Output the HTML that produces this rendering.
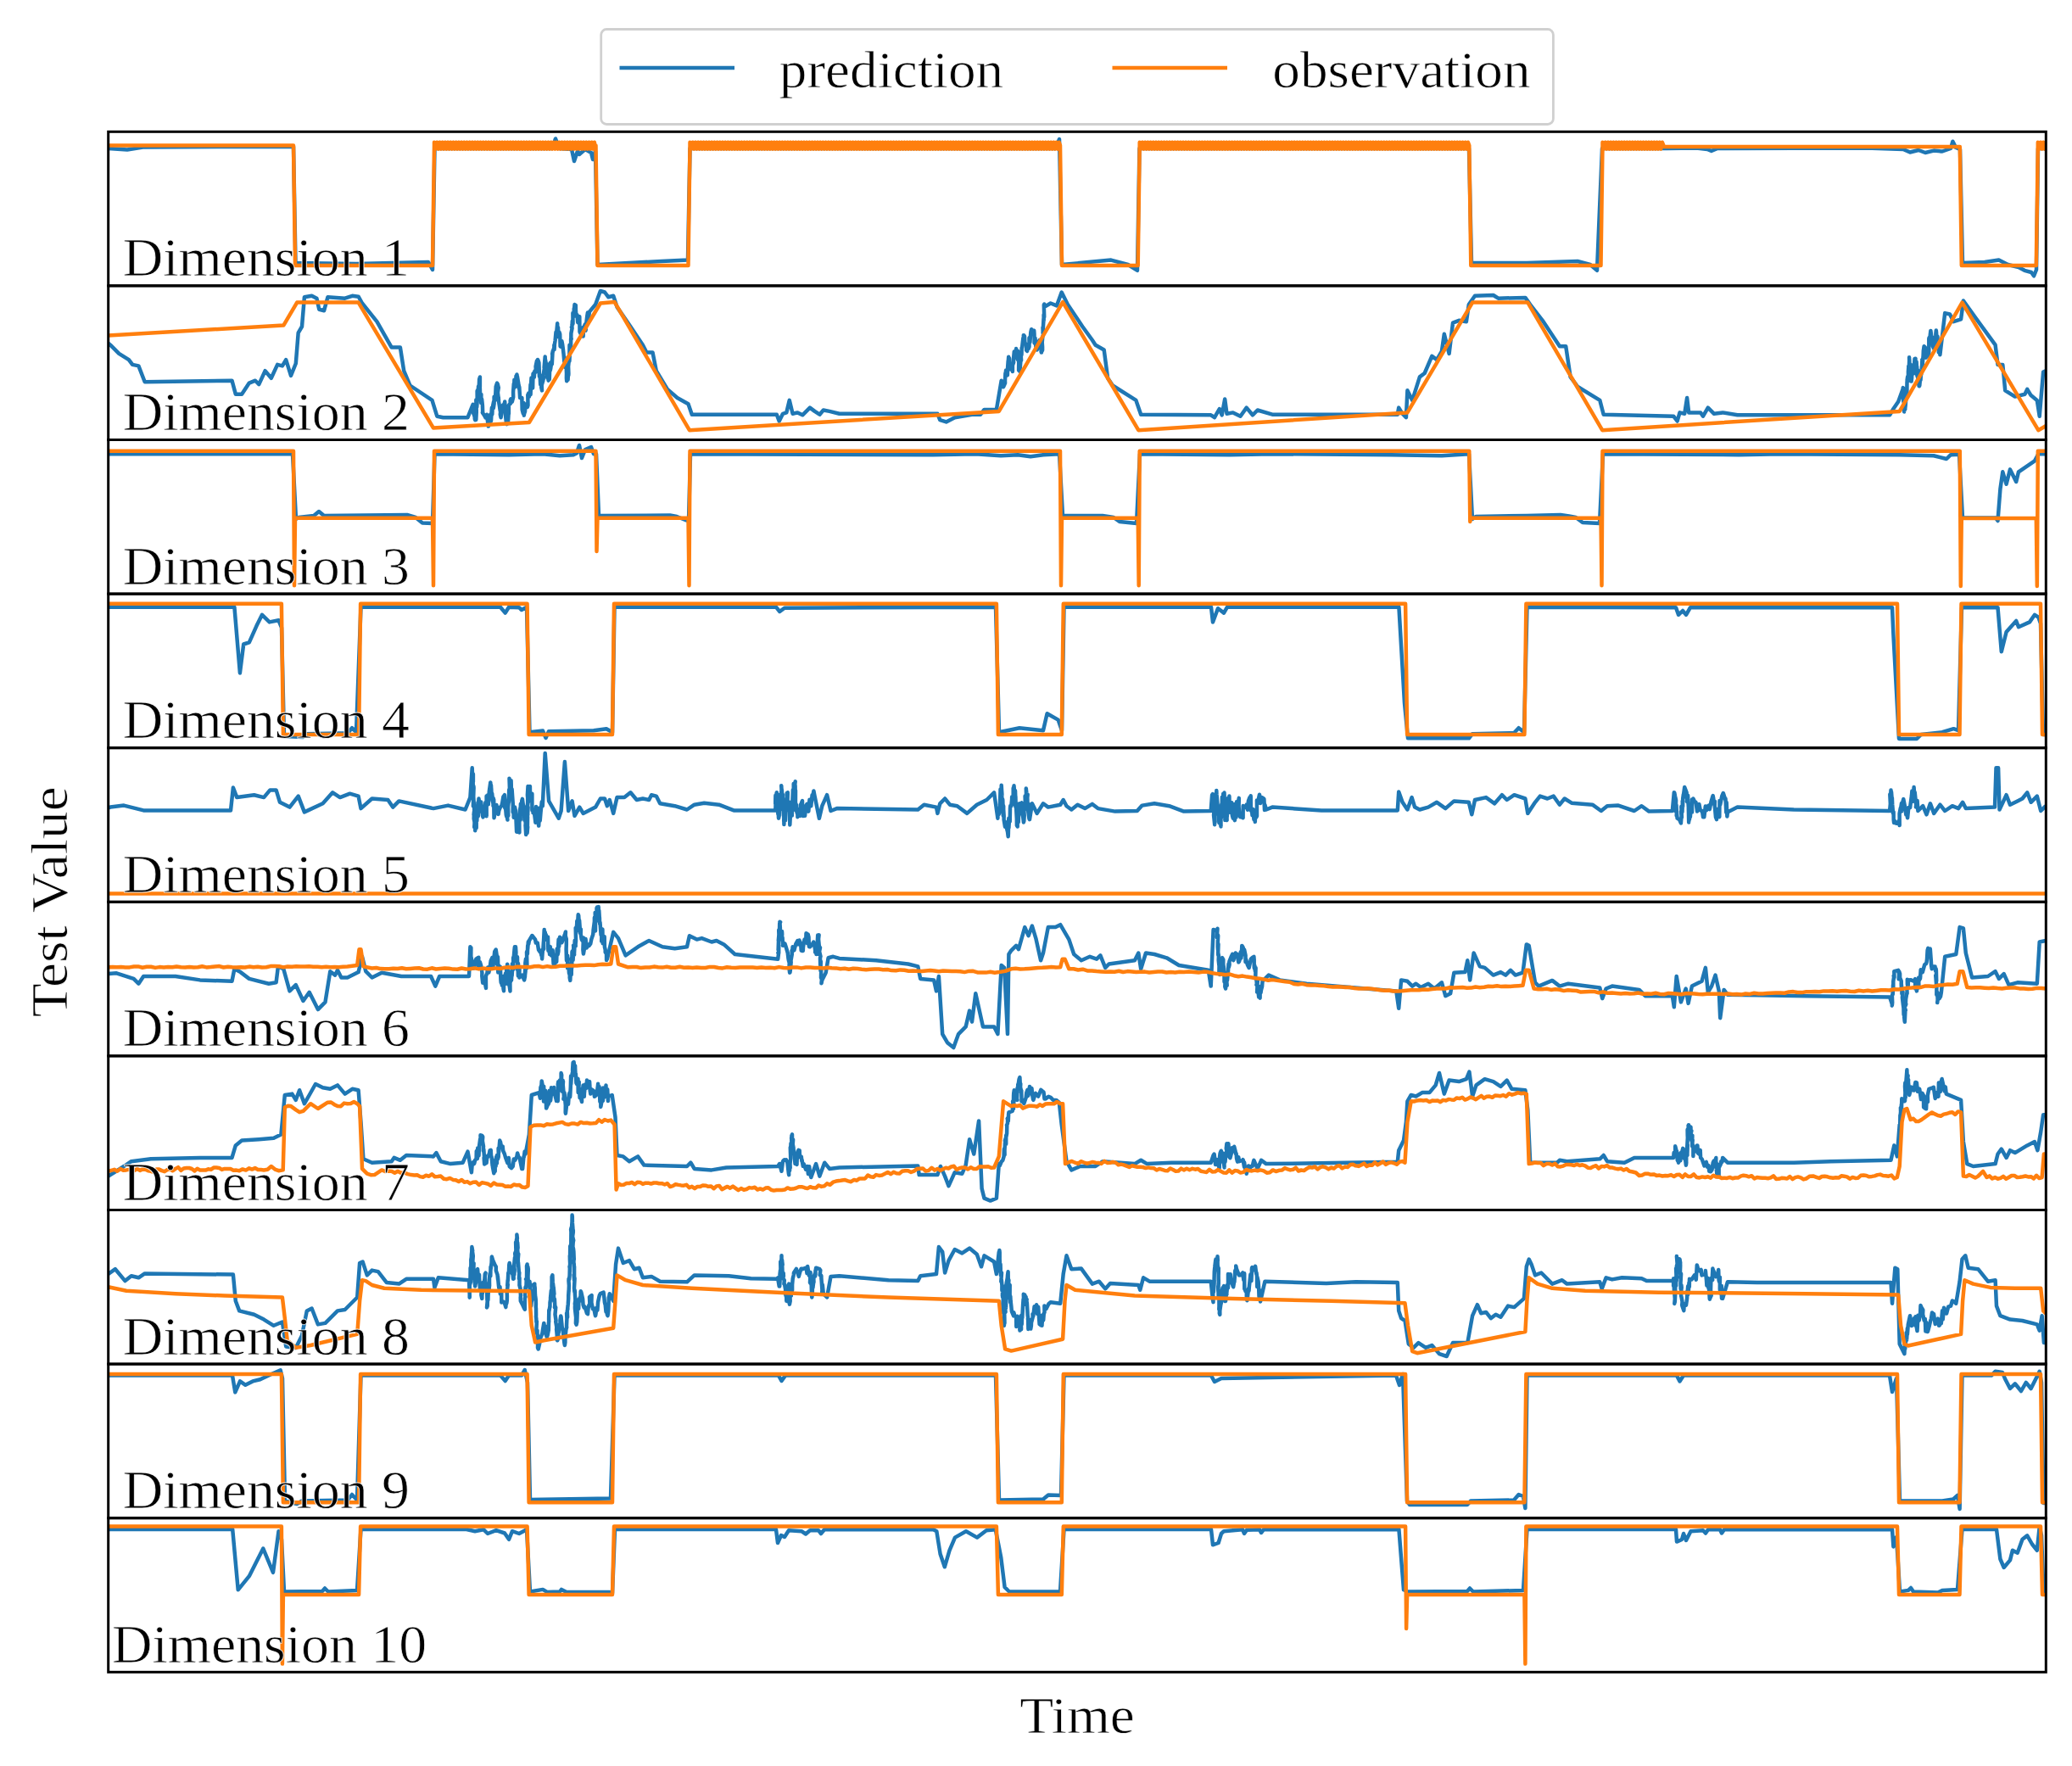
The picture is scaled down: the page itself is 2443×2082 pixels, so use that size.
<!DOCTYPE html>
<html><head><meta charset="utf-8"><title>prediction vs observation</title>
<style>
html,body{margin:0;padding:0;background:#fff;overflow:hidden;}
svg{display:block;}
text{font-family:"Liberation Serif","Times New Roman",serif;fill:#000;stroke:#fff;stroke-width:0.9px;stroke-opacity:0.85;}
.b{fill:none;stroke:#1f77b4;stroke-width:4.5;stroke-linejoin:round;stroke-linecap:butt;}
.o{fill:none;stroke:#ff7f0e;stroke-width:4.5;stroke-linejoin:round;stroke-linecap:butt;}
.fr{fill:none;stroke:#000;stroke-width:3;}
</style></head><body>
<svg width="2443" height="2082" viewBox="0 0 2443 2082">
<rect x="0" y="0" width="2443" height="2082" fill="#fff"/>
<defs><clipPath id="cp"><rect x="127.7" y="155.3" width="2284.6000000000004" height="1816.0"/></clipPath></defs>

<g clip-path="url(#cp)">
<polyline class="b" points="127.7,175.0 150.0,176.5 170.0,173.4 346.0,172.8 348.5,310.0 420.0,311.0 505.0,309.0 510.0,318.0 512.5,175.0 651.0,175.0 655.0,163.5 659.0,175.0 674.0,176.0 677.0,190.0 681.0,178.0 683.0,182.0 690.0,176.0 697.0,180.0 699.0,188.0 702.0,178.0 704.5,312.0 780.0,308.0 811.0,306.6 813.5,175.0 1245.0,175.0 1249.0,164.0 1252.0,312.0 1310.0,306.6 1330.0,312.0 1341.0,318.8 1343.5,175.0 1732.0,175.0 1735.0,310.0 1800.0,310.0 1860.0,308.0 1875.0,312.0 1883.0,318.8 1889.0,175.0 1965.0,175.0 2000.0,174.5 2013.0,176.0 2017.8,178.0 2025.0,175.0 2200.0,174.5 2244.0,176.0 2252.0,179.5 2262.0,177.0 2270.0,180.0 2280.0,177.6 2290.0,178.5 2300.0,175.0 2302.4,166.7 2306.0,174.0 2311.0,176.0 2314.0,310.0 2340.0,309.0 2356.7,306.6 2367.5,312.0 2380.0,315.0 2387.0,318.8 2395.0,321.0 2398.0,325.3 2401.0,318.0 2403.0,175.0 2412.3,175.0"/>
<polyline class="o" points="127.7,171.6 346.0,171.6 348.0,313.0 510.0,313.0 512.0,171.6 512.0,167.8 513.6,175.6 515.2,167.8 516.8,175.6 518.4,167.8 520.0,175.6 521.6,167.8 523.2,175.6 524.8,167.8 526.4,175.6 528.0,167.8 529.6,175.6 531.2,167.8 532.8,175.6 534.4,167.8 536.0,175.6 537.6,167.8 539.2,175.6 540.8,167.8 542.4,175.6 544.0,167.8 545.6,175.6 547.2,167.8 548.8,175.6 550.4,167.8 552.0,175.6 553.6,167.8 555.2,175.6 556.8,167.8 558.4,175.6 560.0,167.8 561.6,175.6 563.2,167.8 564.8,175.6 566.4,167.8 568.0,175.6 569.6,167.8 571.2,175.6 572.8,167.8 574.4,175.6 576.0,167.8 577.6,175.6 579.2,167.8 580.8,175.6 582.4,167.8 584.0,175.6 585.6,167.8 587.2,175.6 588.8,167.8 590.4,175.6 592.0,167.8 593.6,175.6 595.2,167.8 596.8,175.6 598.4,167.8 600.0,175.6 601.6,167.8 603.2,175.6 604.8,167.8 606.4,175.6 608.0,167.8 609.6,175.6 611.2,167.8 612.8,175.6 614.4,167.8 616.0,175.6 617.6,167.8 619.2,175.6 620.8,167.8 622.4,175.6 624.0,167.8 625.6,175.6 627.2,167.8 628.8,175.6 630.4,167.8 632.0,175.6 633.6,167.8 635.2,175.6 636.8,167.8 638.4,175.6 640.0,167.8 641.6,175.6 643.2,167.8 644.8,175.6 646.4,167.8 648.0,175.6 649.6,167.8 651.2,175.6 652.8,167.8 654.4,175.6 656.0,167.8 657.6,175.6 659.2,167.8 660.8,175.6 662.4,167.8 664.0,175.6 665.6,167.8 667.2,175.6 668.8,167.8 670.4,175.6 672.0,167.8 673.6,175.6 675.2,167.8 676.8,175.6 678.4,167.8 680.0,175.6 681.6,167.8 683.2,175.6 684.8,167.8 686.4,175.6 688.0,167.8 689.6,175.6 691.2,167.8 692.8,175.6 694.4,167.8 696.0,175.6 697.6,167.8 699.2,175.6 700.8,167.8 702.4,175.6 702.5,171.6 704.5,313.0 811.5,313.0 813.5,171.6 813.5,167.8 815.1,175.6 816.7,167.8 818.3,175.6 819.9,167.8 821.5,175.6 823.1,167.8 824.7,175.6 826.3,167.8 827.9,175.6 829.5,167.8 831.1,175.6 832.7,167.8 834.3,175.6 835.9,167.8 837.5,175.6 839.1,167.8 840.7,175.6 842.3,167.8 843.9,175.6 845.5,167.8 847.1,175.6 848.7,167.8 850.3,175.6 851.9,167.8 853.5,175.6 855.1,167.8 856.7,175.6 858.3,167.8 859.9,175.6 861.5,167.8 863.1,175.6 864.7,167.8 866.3,175.6 867.9,167.8 869.5,175.6 871.1,167.8 872.7,175.6 874.3,167.8 875.9,175.6 877.5,167.8 879.1,175.6 880.7,167.8 882.3,175.6 883.9,167.8 885.5,175.6 887.1,167.8 888.7,175.6 890.3,167.8 891.9,175.6 893.5,167.8 895.1,175.6 896.7,167.8 898.3,175.6 899.9,167.8 901.5,175.6 903.1,167.8 904.7,175.6 906.3,167.8 907.9,175.6 909.5,167.8 911.1,175.6 912.7,167.8 914.3,175.6 915.9,167.8 917.5,175.6 919.1,167.8 920.7,175.6 922.3,167.8 923.9,175.6 925.5,167.8 927.1,175.6 928.7,167.8 930.3,175.6 931.9,167.8 933.5,175.6 935.1,167.8 936.7,175.6 938.3,167.8 939.9,175.6 941.5,167.8 943.1,175.6 944.7,167.8 946.3,175.6 947.9,167.8 949.5,175.6 951.1,167.8 952.7,175.6 954.3,167.8 955.9,175.6 957.5,167.8 959.1,175.6 960.7,167.8 962.3,175.6 963.9,167.8 965.5,175.6 967.1,167.8 968.7,175.6 970.3,167.8 971.9,175.6 973.5,167.8 975.1,175.6 976.7,167.8 978.3,175.6 979.9,167.8 981.5,175.6 983.1,167.8 984.7,175.6 986.3,167.8 987.9,175.6 989.5,167.8 991.1,175.6 992.7,167.8 994.3,175.6 995.9,167.8 997.5,175.6 999.1,167.8 1000.7,175.6 1002.3,167.8 1003.9,175.6 1005.5,167.8 1007.1,175.6 1008.7,167.8 1010.3,175.6 1011.9,167.8 1013.5,175.6 1015.1,167.8 1016.7,175.6 1018.3,167.8 1019.9,175.6 1021.5,167.8 1023.1,175.6 1024.7,167.8 1026.3,175.6 1027.9,167.8 1029.5,175.6 1031.1,167.8 1032.7,175.6 1034.3,167.8 1035.9,175.6 1037.5,167.8 1039.1,175.6 1040.7,167.8 1042.3,175.6 1043.9,167.8 1045.5,175.6 1047.1,167.8 1048.7,175.6 1050.3,167.8 1051.9,175.6 1053.5,167.8 1055.1,175.6 1056.7,167.8 1058.3,175.6 1059.9,167.8 1061.5,175.6 1063.1,167.8 1064.7,175.6 1066.3,167.8 1067.9,175.6 1069.5,167.8 1071.1,175.6 1072.7,167.8 1074.3,175.6 1075.9,167.8 1077.5,175.6 1079.1,167.8 1080.7,175.6 1082.3,167.8 1083.9,175.6 1085.5,167.8 1087.1,175.6 1088.7,167.8 1090.3,175.6 1091.9,167.8 1093.5,175.6 1095.1,167.8 1096.7,175.6 1098.3,167.8 1099.9,175.6 1101.5,167.8 1103.1,175.6 1104.7,167.8 1106.3,175.6 1107.9,167.8 1109.5,175.6 1111.1,167.8 1112.7,175.6 1114.3,167.8 1115.9,175.6 1117.5,167.8 1119.1,175.6 1120.7,167.8 1122.3,175.6 1123.9,167.8 1125.5,175.6 1127.1,167.8 1128.7,175.6 1130.3,167.8 1131.9,175.6 1133.5,167.8 1135.1,175.6 1136.7,167.8 1138.3,175.6 1139.9,167.8 1141.5,175.6 1143.1,167.8 1144.7,175.6 1146.3,167.8 1147.9,175.6 1149.5,167.8 1151.1,175.6 1152.7,167.8 1154.3,175.6 1155.9,167.8 1157.5,175.6 1159.1,167.8 1160.7,175.6 1162.3,167.8 1163.9,175.6 1165.5,167.8 1167.1,175.6 1168.7,167.8 1170.3,175.6 1171.9,167.8 1173.5,175.6 1175.1,167.8 1176.7,175.6 1178.3,167.8 1179.9,175.6 1181.5,167.8 1183.1,175.6 1184.7,167.8 1186.3,175.6 1187.9,167.8 1189.5,175.6 1191.1,167.8 1192.7,175.6 1194.3,167.8 1195.9,175.6 1197.5,167.8 1199.1,175.6 1200.7,167.8 1202.3,175.6 1203.9,167.8 1205.5,175.6 1207.1,167.8 1208.7,175.6 1210.3,167.8 1211.9,175.6 1213.5,167.8 1215.1,175.6 1216.7,167.8 1218.3,175.6 1219.9,167.8 1221.5,175.6 1223.1,167.8 1224.7,175.6 1226.3,167.8 1227.9,175.6 1229.5,167.8 1231.1,175.6 1232.7,167.8 1234.3,175.6 1235.9,167.8 1237.5,175.6 1239.1,167.8 1240.7,175.6 1242.3,167.8 1243.9,175.6 1245.5,167.8 1247.1,175.6 1248.7,167.8 1250.0,171.6 1252.0,313.0 1341.7,313.0 1343.7,171.6 1343.7,167.8 1345.3,175.6 1346.9,167.8 1348.5,175.6 1350.1,167.8 1351.7,175.6 1353.3,167.8 1354.9,175.6 1356.5,167.8 1358.1,175.6 1359.7,167.8 1361.3,175.6 1362.9,167.8 1364.5,175.6 1366.1,167.8 1367.7,175.6 1369.3,167.8 1370.9,175.6 1372.5,167.8 1374.1,175.6 1375.7,167.8 1377.3,175.6 1378.9,167.8 1380.5,175.6 1382.1,167.8 1383.7,175.6 1385.3,167.8 1386.9,175.6 1388.5,167.8 1390.1,175.6 1391.7,167.8 1393.3,175.6 1394.9,167.8 1396.5,175.6 1398.1,167.8 1399.7,175.6 1401.3,167.8 1402.9,175.6 1404.5,167.8 1406.1,175.6 1407.7,167.8 1409.3,175.6 1410.9,167.8 1412.5,175.6 1414.1,167.8 1415.7,175.6 1417.3,167.8 1418.9,175.6 1420.5,167.8 1422.1,175.6 1423.7,167.8 1425.3,175.6 1426.9,167.8 1428.5,175.6 1430.1,167.8 1431.7,175.6 1433.3,167.8 1434.9,175.6 1436.5,167.8 1438.1,175.6 1439.7,167.8 1441.3,175.6 1442.9,167.8 1444.5,175.6 1446.1,167.8 1447.7,175.6 1449.3,167.8 1450.9,175.6 1452.5,167.8 1454.1,175.6 1455.7,167.8 1457.3,175.6 1458.9,167.8 1460.5,175.6 1462.1,167.8 1463.7,175.6 1465.3,167.8 1466.9,175.6 1468.5,167.8 1470.1,175.6 1471.7,167.8 1473.3,175.6 1474.9,167.8 1476.5,175.6 1478.1,167.8 1479.7,175.6 1481.3,167.8 1482.9,175.6 1484.5,167.8 1486.1,175.6 1487.7,167.8 1489.3,175.6 1490.9,167.8 1492.5,175.6 1494.1,167.8 1495.7,175.6 1497.3,167.8 1498.9,175.6 1500.5,167.8 1502.1,175.6 1503.7,167.8 1505.3,175.6 1506.9,167.8 1508.5,175.6 1510.1,167.8 1511.7,175.6 1513.3,167.8 1514.9,175.6 1516.5,167.8 1518.1,175.6 1519.7,167.8 1521.3,175.6 1522.9,167.8 1524.5,175.6 1526.1,167.8 1527.7,175.6 1529.3,167.8 1530.9,175.6 1532.5,167.8 1534.1,175.6 1535.7,167.8 1537.3,175.6 1538.9,167.8 1540.5,175.6 1542.1,167.8 1543.7,175.6 1545.3,167.8 1546.9,175.6 1548.5,167.8 1550.1,175.6 1551.7,167.8 1553.3,175.6 1554.9,167.8 1556.5,175.6 1558.1,167.8 1559.7,175.6 1561.3,167.8 1562.9,175.6 1564.5,167.8 1566.1,175.6 1567.7,167.8 1569.3,175.6 1570.9,167.8 1572.5,175.6 1574.1,167.8 1575.7,175.6 1577.3,167.8 1578.9,175.6 1580.5,167.8 1582.1,175.6 1583.7,167.8 1585.3,175.6 1586.9,167.8 1588.5,175.6 1590.1,167.8 1591.7,175.6 1593.3,167.8 1594.9,175.6 1596.5,167.8 1598.1,175.6 1599.7,167.8 1601.3,175.6 1602.9,167.8 1604.5,175.6 1606.1,167.8 1607.7,175.6 1609.3,167.8 1610.9,175.6 1612.5,167.8 1614.1,175.6 1615.7,167.8 1617.3,175.6 1618.9,167.8 1620.5,175.6 1622.1,167.8 1623.7,175.6 1625.3,167.8 1626.9,175.6 1628.5,167.8 1630.1,175.6 1631.7,167.8 1633.3,175.6 1634.9,167.8 1636.5,175.6 1638.1,167.8 1639.7,175.6 1641.3,167.8 1642.9,175.6 1644.5,167.8 1646.1,175.6 1647.7,167.8 1649.3,175.6 1650.9,167.8 1652.5,175.6 1654.1,167.8 1655.7,175.6 1657.3,167.8 1658.9,175.6 1660.5,167.8 1662.1,175.6 1663.7,167.8 1665.3,175.6 1666.9,167.8 1668.5,175.6 1670.1,167.8 1671.7,175.6 1673.3,167.8 1674.9,175.6 1676.5,167.8 1678.1,175.6 1679.7,167.8 1681.3,175.6 1682.9,167.8 1684.5,175.6 1686.1,167.8 1687.7,175.6 1689.3,167.8 1690.9,175.6 1692.5,167.8 1694.1,175.6 1695.7,167.8 1697.3,175.6 1698.9,167.8 1700.5,175.6 1702.1,167.8 1703.7,175.6 1705.3,167.8 1706.9,175.6 1708.5,167.8 1710.1,175.6 1711.7,167.8 1713.3,175.6 1714.9,167.8 1716.5,175.6 1718.1,167.8 1719.7,175.6 1721.3,167.8 1722.9,175.6 1724.5,167.8 1726.1,175.6 1727.7,167.8 1729.3,175.6 1730.9,167.8 1732.3,171.6 1734.3,313.0 1887.5,313.0 1889.5,171.6 1889.5,167.8 1891.1,175.6 1892.7,167.8 1894.3,175.6 1895.9,167.8 1897.5,175.6 1899.1,167.8 1900.7,175.6 1902.3,167.8 1903.9,175.6 1905.5,167.8 1907.1,175.6 1908.7,167.8 1910.3,175.6 1911.9,167.8 1913.5,175.6 1915.1,167.8 1916.7,175.6 1918.3,167.8 1919.9,175.6 1921.5,167.8 1923.1,175.6 1924.7,167.8 1926.3,175.6 1927.9,167.8 1929.5,175.6 1931.1,167.8 1932.7,175.6 1934.3,167.8 1935.9,175.6 1937.5,167.8 1939.1,175.6 1940.7,167.8 1942.3,175.6 1943.9,167.8 1945.5,175.6 1947.1,167.8 1948.7,175.6 1950.3,167.8 1951.9,175.6 1953.5,167.8 1955.1,175.6 1956.7,167.8 1958.3,175.6 1959.9,167.8 1961.4,171.6 1962.0,173.0 2310.8,173.0 2312.8,313.0 2400.8,313.0 2402.8,171.6 2402.8,167.8 2404.4,175.6 2406.0,167.8 2407.6,175.6 2409.2,167.8 2410.8,175.6 2412.3,171.6"/>
<polyline class="b" points="127.7,404.7 130.1,406.7 140.3,416.9 151.9,424.1 156.2,429.9 163.4,431.4 170.7,450.2 273.5,448.7 277.8,464.7 285.1,464.7 293.8,451.6 301.0,448.7 305.3,453.1 312.6,437.2 319.8,445.8 327.1,429.9 332.9,431.4 337.2,424.1 343.0,442.9 348.8,428.5 351.7,392.3 356.0,385.0 358.9,350.3 367.6,348.8 373.4,351.7 376.3,364.8 382.1,366.2 386.4,350.3 406.7,351.7 415.4,348.8 422.6,349.7 427.0,357.5 444.4,379.2 461.7,409.6 471.9,409.6 476.2,437.2 483.5,454.5 509.5,471.9 515.3,490.7 522.5,492.2 551.5,492.2 557.3,477.7 558.3,487.8 557.7,476.8 559.2,490.2 559.4,486.2 559.8,493.9 560.2,495.1 560.6,487.0 560.7,488.1 561.3,495.0 561.8,485.2 561.5,478.1 561.3,471.6 562.1,473.6 562.2,480.1 562.7,472.1 562.6,460.9 563.0,460.1 563.5,471.2 564.0,455.5 564.5,462.7 564.6,461.8 564.9,457.2 564.7,457.6 565.1,447.3 565.9,444.5 565.9,455.9 565.8,455.6 566.1,464.5 566.4,465.6 566.5,469.1 567.4,464.9 567.2,474.9 567.6,470.5 567.3,470.5 568.1,470.6 568.6,474.9 568.9,478.1 569.2,487.1 568.9,486.4 570.6,489.0 572.5,492.4 573.9,488.7 575.8,502.6 577.6,498.0 578.2,488.6 579.0,496.5 579.6,485.4 579.9,480.7 580.3,481.6 580.3,488.6 580.7,480.4 582.1,473.4 581.8,481.1 582.6,475.9 582.6,467.7 583.3,470.1 583.7,472.0 584.2,465.9 584.7,455.7 586.1,451.6 586.3,454.5 586.2,460.3 586.7,452.6 587.8,457.0 586.9,462.8 588.0,471.9 587.7,468.1 587.9,472.5 589.1,479.9 589.5,482.8 589.8,484.7 589.6,479.7 590.2,483.9 589.8,488.7 590.6,492.2 591.8,483.3 592.2,484.7 592.8,477.8 594.1,476.7 594.4,476.4 594.9,474.8 594.7,478.6 595.2,473.5 595.5,478.1 595.9,488.5 596.8,497.0 597.6,500.1 597.2,494.2 597.8,498.0 598.1,496.9 599.0,497.6 599.7,486.4 599.9,488.1 599.9,477.7 600.9,476.3 601.8,475.9 601.6,472.3 602.3,470.3 603.1,471.7 603.4,472.0 603.8,473.7 605.2,468.3 605.1,462.2 605.8,452.3 606.2,457.3 606.4,447.8 607.7,449.6 607.9,455.9 608.5,443.3 609.5,442.0 609.4,441.5 609.3,447.0 609.9,443.5 611.3,452.0 610.8,451.0 611.7,454.1 612.0,458.4 612.3,456.1 613.1,469.1 613.3,468.7 613.9,468.4 614.6,469.2 615.5,470.7 615.3,468.9 615.7,483.1 616.8,487.5 617.4,475.1 617.8,489.7 618.1,487.8 619.0,485.3 619.2,482.0 620.4,476.5 620.7,477.3 621.8,480.0 622.5,477.9 622.3,465.7 623.2,463.6 623.8,467.8 625.0,463.7 625.5,453.3 625.6,465.2 626.0,453.4 626.5,445.5 628.1,457.4 628.5,441.1 628.7,440.2 629.8,444.9 630.1,439.8 630.4,437.5 632.0,438.4 631.6,432.0 633.0,425.3 633.9,426.0 634.0,424.1 634.7,425.4 635.4,434.2 635.2,426.8 635.4,427.7 636.0,444.1 635.8,440.9 636.6,442.0 637.2,453.3 637.6,448.7 638.2,449.2 638.3,457.2 638.4,457.4 639.0,460.4 638.7,454.0 639.3,452.1 640.3,448.9 639.5,443.5 640.6,447.5 640.9,443.8 640.5,443.1 641.7,435.1 642.2,436.8 641.6,433.1 642.7,420.5 642.7,422.7 643.5,426.6 643.3,432.7 643.7,432.2 644.6,429.0 645.2,435.0 645.3,445.6 645.6,432.7 646.6,448.7 647.1,445.8 647.7,447.3 647.9,443.3 648.2,434.2 648.8,427.7 648.8,436.7 649.3,434.0 650.5,425.8 650.8,429.3 651.5,416.2 651.1,417.5 651.9,413.5 651.8,415.0 653.4,409.3 653.3,406.9 653.6,412.1 653.9,405.9 654.6,401.5 655.5,391.5 655.8,392.5 656.1,397.7 656.5,388.6 657.2,381.2 657.2,385.0 658.0,385.9 658.5,395.9 659.4,395.1 659.4,391.4 660.2,394.0 660.6,408.3 661.0,408.7 661.9,404.1 662.4,402.2 663.2,406.2 663.8,410.9 664.5,416.9 665.3,426.3 665.2,424.4 666.2,422.0 665.6,423.2 666.1,432.9 666.7,430.4 667.6,431.0 668.0,440.1 667.9,445.8 668.2,449.3 668.8,445.8 669.6,443.3 669.6,447.8 669.9,442.0 670.3,442.3 670.4,440.3 670.1,432.0 670.8,425.3 670.8,419.6 671.7,419.8 671.4,425.8 671.3,424.3 671.5,406.7 672.0,409.4 673.0,415.1 673.1,405.3 673.1,399.5 673.7,399.3 673.3,400.7 673.4,392.9 674.6,386.7 673.9,385.8 674.3,386.6 674.6,382.8 674.8,378.5 675.5,377.4 675.5,381.7 675.4,369.1 676.6,371.0 676.8,363.6 676.7,372.4 676.8,368.5 677.4,359.9 677.5,359.0 678.8,359.9 678.9,366.3 679.4,372.4 680.5,371.1 681.2,380.2 682.4,380.5 682.5,376.4 683.3,373.2 683.5,391.1 684.3,392.9 685.7,395.2 685.7,388.1 687.3,386.1 687.6,396.6 687.8,391.6 688.5,385.7 689.8,382.2 690.8,388.5 690.4,389.8 691.3,380.5 692.3,372.4 692.9,368.5 693.2,379.6 694.6,370.6 694.9,367.6 702.1,359.0 707.9,343.0 713.0,344.5 717.4,350.3 723.2,348.8 727.5,361.9 743.4,385.0 757.9,406.7 762.3,415.4 769.5,415.4 773.8,437.2 786.9,458.9 798.5,469.0 811.5,476.2 815.8,488.7 915.8,488.7 918.7,496.5 923.0,487.8 927.3,486.4 930.8,471.9 934.6,487.8 940.4,486.4 946.2,489.3 954.9,480.6 960.6,484.9 966.4,488.7 970.8,483.5 978.0,484.9 989.6,487.8 1105.4,487.8 1108.3,495.1 1115.6,497.4 1125.7,492.2 1146.0,488.7 1156.1,488.7 1160.5,482.9 1174.9,482.9 1180.7,448.7 1183.1,456.2 1185.1,451.6 1185.0,448.9 1185.4,440.2 1185.8,439.1 1186.1,436.5 1186.9,440.4 1187.9,442.3 1188.1,433.3 1188.7,425.2 1188.2,433.0 1189.2,420.7 1189.4,422.7 1189.9,422.0 1190.5,426.7 1191.0,435.3 1192.1,434.1 1192.3,435.7 1192.9,429.5 1193.9,438.0 1193.9,430.7 1195.1,427.3 1195.0,422.9 1195.8,414.4 1196.9,418.9 1197.6,417.7 1198.1,411.1 1198.8,413.3 1198.5,420.6 1200.0,424.2 1200.2,414.0 1200.2,417.7 1201.2,427.2 1201.1,436.4 1202.6,438.1 1202.5,434.3 1202.7,428.3 1202.7,434.2 1203.6,422.9 1204.1,424.9 1203.8,419.9 1204.5,417.9 1204.7,410.0 1205.0,409.8 1205.6,406.2 1205.2,408.8 1205.5,406.0 1206.4,398.2 1206.6,403.5 1206.9,396.9 1206.8,395.2 1207.4,395.4 1208.0,396.6 1208.3,402.8 1208.9,405.4 1210.0,405.6 1210.1,413.0 1211.1,414.0 1212.2,406.8 1212.6,411.1 1213.5,408.7 1213.5,398.4 1214.8,397.1 1214.4,403.5 1215.3,391.8 1216.1,388.2 1216.9,389.4 1217.8,389.5 1218.1,393.5 1219.2,389.7 1219.5,394.2 1219.6,404.5 1220.5,398.5 1221.3,408.2 1222.8,412.4 1224.4,403.3 1225.6,401.0 1226.6,410.2 1226.4,403.0 1227.9,415.6 1227.6,414.6 1228.5,414.0 1229.1,412.8 1229.1,409.2 1228.6,401.6 1228.6,406.2 1228.8,402.9 1229.3,397.3 1230.1,394.0 1229.7,391.2 1229.5,386.1 1230.0,393.0 1229.6,392.4 1230.5,375.6 1230.7,378.5 1230.6,371.1 1230.7,375.2 1231.2,373.6 1231.2,373.4 1230.8,359.5 1231.3,358.5 1231.4,361.9 1238.7,357.5 1245.9,360.4 1251.7,344.5 1258.9,359.0 1276.3,385.0 1287.9,401.0 1291.6,406.7 1301.7,412.5 1306.1,445.8 1311.9,454.5 1339.4,471.9 1345.2,488.7 1427.7,489.3 1432.0,492.2 1437.8,482.0 1440.7,489.3 1444.2,470.5 1446.5,487.8 1453.8,486.4 1462.5,490.7 1469.7,480.6 1476.9,489.3 1482.7,483.5 1500.1,488.7 1647.8,488.7 1649.2,480.6 1653.6,487.8 1657.9,492.2 1659.4,460.3 1665.2,471.9 1673.9,444.4 1679.7,440.0 1688.3,419.8 1694.1,424.1 1699.9,414.0 1702.8,393.7 1708.6,416.9 1713.0,380.7 1720.2,377.8 1728.9,379.2 1731.8,359.0 1739.0,348.8 1760.7,348.0 1766.5,351.7 1798.4,350.9 1804.2,359.0 1818.7,377.8 1838.9,408.2 1846.2,408.2 1851.6,444.4 1860.3,456.0 1886.3,471.9 1890.7,488.7 1973.2,490.7 1977.6,496.5 1980.5,486.4 1986.2,487.8 1989.1,469.0 1991.2,486.4 2005.1,486.4 2008.0,490.7 2013.8,480.6 2021.0,487.8 2031.1,486.4 2048.5,489.3 2228.1,489.3 2232.4,482.0 2238.2,473.4 2244.0,457.4 2243.7,457.2 2244.3,464.5 2244.6,472.3 2244.1,468.8 2244.2,473.2 2244.8,467.3 2244.8,478.2 2245.1,485.4 2245.1,478.3 2245.4,483.5 2246.2,482.6 2245.5,482.8 2246.1,482.8 2246.7,477.8 2247.2,470.5 2247.6,460.1 2247.1,470.5 2247.0,465.2 2248.4,463.2 2248.5,450.4 2248.4,456.3 2248.5,450.6 2249.2,443.9 2248.6,448.1 2250.0,449.2 2249.9,438.1 2250.4,431.4 2249.9,440.7 2250.9,431.9 2251.2,424.6 2251.1,421.3 2251.2,425.6 2251.3,423.5 2251.5,429.8 2252.5,430.8 2253.1,430.0 2253.3,440.5 2253.6,449.6 2254.1,445.8 2254.2,442.1 2255.0,438.7 2256.1,439.3 2256.1,434.6 2256.5,440.2 2257.4,432.8 2257.1,429.3 2257.5,422.9 2258.5,422.7 2258.3,428.6 2259.8,430.2 2259.6,426.6 2259.9,432.7 2260.2,432.3 2260.3,442.6 2261.6,446.4 2261.5,436.4 2261.5,452.0 2262.7,450.0 2262.5,454.9 2262.8,454.5 2262.9,455.2 2263.3,454.6 2263.8,449.0 2264.3,444.2 2264.5,448.1 2265.2,436.9 2265.2,441.8 2265.8,435.2 2266.4,423.9 2266.3,429.3 2266.5,432.0 2267.5,420.1 2267.4,423.3 2267.8,414.2 2268.3,411.2 2267.8,413.6 2268.6,408.2 2269.9,409.6 2270.8,421.8 2272.2,415.4 2273.0,419.8 2273.7,418.3 2273.4,416.9 2274.2,418.3 2274.3,412.0 2274.3,399.4 2274.6,398.0 2275.5,399.3 2275.4,402.7 2275.2,401.7 2275.9,393.7 2276.4,389.9 2277.4,397.9 2278.5,401.5 2278.3,397.6 2278.9,408.1 2280.2,411.1 2280.9,401.2 2280.8,405.4 2281.9,410.6 2282.3,402.6 2282.4,393.2 2282.8,389.6 2283.1,392.3 2283.3,400.2 2284.0,401.1 2284.4,396.6 2284.8,403.9 2285.0,410.8 2286.3,402.8 2285.8,415.5 2286.8,408.7 2287.1,411.5 2287.4,418.3 2293.2,369.1 2299.0,370.5 2303.4,379.2 2312.1,376.3 2314.9,354.6 2329.4,374.9 2352.6,406.7 2355.5,429.9 2361.3,429.9 2364.2,460.3 2375.8,467.6 2387.4,464.7 2390.2,458.9 2394.6,466.1 2401.8,471.9 2404.7,490.7 2409.1,438.6 2412.0,437.2"/>
<polyline class="o" points="127.7,395.5 334.3,383.6 350.2,356.6 422.6,356.6 511.0,504.6 623.9,498.0 707.9,357.5 724.6,356.1 812.9,507.2 1177.8,484.9 1253.1,356.1 1342.3,507.2 1659.4,486.4 1736.1,356.6 1801.3,356.6 1889.2,507.2 2239.7,484.9 2313.5,356.6 2403.3,507.2 2412.0,502.3"/>
<polyline class="b" points="127.7,535.2 345.0,535.2 349.0,612.0 352.0,610.0 370.0,608.0 376.0,603.0 382.0,608.0 480.0,607.0 490.0,610.0 498.0,616.4 510.0,617.0 512.5,535.2 600.0,536.2 640.0,535.2 660.0,537.2 676.0,536.2 680.0,534.2 683.0,525.0 686.0,540.0 690.0,530.0 697.0,527.0 700.0,535.2 703.0,535.2 706.0,608.0 790.0,607.5 798.0,609.0 808.0,613.0 812.0,614.0 814.0,535.2 1100.0,536.2 1150.0,535.2 1180.0,537.2 1200.0,536.2 1215.0,538.2 1230.0,536.2 1249.0,535.2 1253.0,608.0 1300.0,608.0 1313.0,610.0 1320.0,615.0 1340.0,617.0 1344.0,535.2 1450.0,536.2 1500.0,535.2 1640.0,536.2 1700.0,537.2 1732.0,535.2 1736.0,612.0 1740.0,609.0 1800.0,608.0 1840.0,607.0 1850.0,608.5 1858.0,610.0 1866.0,616.0 1886.0,617.0 1890.0,535.2 2050.0,536.2 2100.0,535.2 2240.0,536.2 2280.0,537.2 2295.0,541.0 2300.0,536.2 2310.0,535.8 2314.0,610.5 2353.0,610.5 2355.5,614.0 2358.4,576.6 2361.3,556.3 2365.6,570.8 2370.0,553.4 2377.2,568.0 2380.0,556.3 2399.0,543.3 2403.3,535.2 2412.3,535.2"/>
<polyline class="o" points="127.7,531.7 346.0,531.7 347.0,690.3 348.0,610.8 510.0,610.8 511.0,690.3 512.0,531.7 702.5,531.7 703.5,649.9 704.5,610.8 811.5,610.8 812.5,690.3 813.5,531.7 1250.0,531.7 1251.0,690.3 1252.0,610.8 1341.7,610.8 1342.7,690.3 1343.7,531.7 1732.3,531.7 1733.3,615.0 1734.3,610.8 1887.5,610.8 1888.5,690.3 1889.5,531.7 2310.8,531.7 2311.8,691.0 2312.8,611.0 2400.8,611.0 2401.8,691.0 2402.8,531.7 2412.3,531.7"/>
<polyline class="b" points="127.7,715.7 276.4,715.7 282.9,793.4 287.2,759.5 293.8,757.3 302.5,737.8 309.0,724.8 317.7,733.4 328.5,731.3 332.0,740.0 335.0,868.0 357.0,869.0 360.0,865.2 410.0,864.2 415.0,858.2 420.0,863.2 425.5,715.7 590.0,715.7 595.7,722.6 600.0,715.7 612.0,716.2 615.0,719.0 621.0,715.7 624.5,863.2 640.0,861.5 643.5,870.0 647.0,862.2 700.0,861.2 715.0,859.2 722.0,863.2 724.5,715.7 915.0,715.7 919.3,721.0 925.0,716.7 1174.0,715.7 1178.0,863.2 1202.0,858.2 1230.0,861.2 1234.6,841.2 1247.6,848.6 1252.0,861.2 1254.5,715.7 1428.0,715.7 1430.0,733.4 1436.0,717.2 1443.0,722.6 1447.0,715.7 1649.4,715.7 1656.0,829.0 1660.0,870.3 1732.0,870.3 1736.0,865.2 1785.0,864.2 1790.6,858.2 1797.0,863.2 1800.5,715.7 1976.0,716.2 1979.0,724.8 1984.0,720.0 1988.0,724.8 1993.0,716.2 2231.0,716.2 2232.4,748.0 2239.0,871.0 2260.0,871.0 2265.0,866.0 2290.0,863.2 2303.4,859.2 2309.0,861.2 2313.0,716.2 2355.5,716.2 2359.8,768.2 2365.6,745.0 2377.2,732.0 2380.0,739.2 2393.0,733.4 2399.0,724.8 2403.3,727.6 2406.0,735.0 2409.0,866.0 2412.3,866.0"/>
<polyline class="o" points="127.7,711.7 331.9,711.7 333.9,865.9 423.1,865.9 425.1,711.7 621.6,711.7 623.6,865.9 722.0,865.9 724.0,711.7 1174.9,711.7 1176.9,865.9 1251.8,865.9 1253.8,711.7 1657.1,711.7 1659.1,865.9 1797.4,865.9 1799.4,711.7 2237.0,711.7 2239.0,865.9 2310.5,865.9 2312.5,711.7 2406.0,711.7 2408.0,865.9 2412.3,865.9"/>
<polyline class="b" points="127.7,952.5 130.1,951.6 146.1,949.6 169.2,955.4 272.0,955.4 274.9,928.5 279.3,940.1 299.6,937.2 311.1,940.1 318.4,931.4 325.6,931.4 330.0,945.8 341.5,951.6 351.7,938.6 358.9,957.4 380.6,947.3 392.2,934.3 400.9,940.1 412.5,935.7 422.6,938.6 425.5,953.1 438.6,941.5 457.4,943.0 463.2,951.6 470.4,944.4 511.0,953.1 528.3,949.6 548.6,954.5 554.4,940.1 556.7,905.3 557.0,913.4 557.3,920.5 557.4,922.7 556.7,915.1 557.9,921.8 557.9,912.5 557.6,918.1 557.8,928.1 557.3,922.7 557.7,941.0 558.4,926.7 558.6,928.9 558.5,931.2 557.9,950.5 558.2,938.5 559.3,955.8 558.6,960.5 559.0,956.8 558.7,965.3 559.4,968.5 559.8,956.2 559.3,955.8 559.2,956.2 559.5,970.9 559.2,975.2 559.8,969.6 560.5,976.1 560.2,979.2 560.3,976.0 561.1,963.9 561.7,960.4 561.7,976.1 561.2,972.2 561.9,964.8 561.8,950.2 562.3,967.8 562.6,960.7 563.8,962.2 563.4,946.3 564.0,953.1 563.8,949.8 564.5,941.5 565.9,952.0 566.1,956.5 567.2,945.4 568.8,960.8 569.5,963.4 570.8,952.2 571.8,958.9 572.1,949.1 572.4,945.9 573.7,962.3 573.6,938.5 575.1,946.8 575.0,937.6 575.8,948.3 576.2,936.6 576.3,945.1 576.8,933.1 578.3,922.4 578.7,938.2 579.0,925.6 579.5,934.8 579.3,929.7 579.7,941.6 580.2,935.6 581.4,947.3 581.8,941.2 581.5,950.1 581.9,943.1 582.2,942.6 582.5,964.3 583.6,958.9 583.4,958.9 584.7,952.8 585.4,949.0 587.6,959.9 588.3,955.6 590.1,951.2 591.3,950.2 592.2,946.6 593.4,939.3 594.9,937.2 595.6,944.2 595.3,952.6 596.1,947.2 595.7,949.2 596.3,954.7 596.8,960.7 597.4,963.0 597.3,962.3 597.8,961.8 598.4,966.5 598.1,964.2 599.0,958.2 599.3,961.6 599.0,949.4 598.8,953.7 600.0,943.0 599.9,945.8 600.2,931.0 600.5,937.5 600.6,931.3 600.8,936.7 601.0,932.8 600.5,917.7 601.3,922.7 601.6,928.6 601.7,932.0 602.6,920.2 602.8,926.9 602.6,927.4 603.3,931.1 603.6,930.4 604.3,940.7 604.8,948.0 604.7,957.6 604.8,949.0 605.5,951.7 605.7,963.7 606.5,958.9 607.0,951.4 607.9,955.6 608.4,964.0 609.1,980.7 610.0,971.5 610.6,979.4 610.9,979.2 611.1,968.5 611.7,975.2 612.4,981.6 612.3,965.1 613.0,954.6 612.4,964.6 613.4,952.4 613.7,966.5 613.7,953.6 613.9,947.8 615.1,947.1 615.4,956.3 615.2,944.4 615.9,941.9 617.0,950.1 616.9,949.0 618.1,955.8 618.1,958.9 618.2,960.9 618.4,966.8 619.2,962.0 620.0,976.5 619.5,972.5 620.2,984.1 621.2,971.2 620.9,971.7 621.6,982.0 622.2,974.8 621.8,976.2 621.9,976.5 622.1,963.0 622.1,964.5 621.9,962.7 621.6,964.4 621.9,958.0 622.3,960.5 621.5,950.3 622.0,962.6 622.6,951.6 621.5,954.2 622.1,947.1 622.5,945.7 622.2,949.3 622.2,935.1 622.8,928.1 622.1,939.7 621.9,937.2 622.5,927.0 623.4,928.2 623.5,938.6 624.9,926.9 625.1,938.7 625.7,936.4 626.0,944.7 627.4,935.8 627.4,955.2 628.7,954.4 628.5,958.3 629.7,956.0 631.4,969.7 632.1,950.9 633.4,957.3 634.0,966.1 635.2,973.6 636.2,952.6 636.7,967.5 637.5,958.0 638.8,945.3 639.8,950.2 642.7,887.9 647.1,944.4 658.7,964.7 661.6,956.0 665.9,898.1 670.2,956.0 674.6,944.4 677.5,961.8 683.3,951.6 687.6,958.9 702.1,951.6 707.9,941.5 713.0,941.5 715.9,950.2 718.8,943.0 723.2,958.9 727.5,940.1 736.2,940.1 743.4,934.3 750.7,943.0 757.9,941.5 765.2,943.0 768.1,937.2 773.8,938.6 778.2,947.3 795.6,950.2 810.0,954.5 818.7,948.7 830.3,946.7 847.7,948.7 865.1,955.4 914.3,955.4 914.7,942.6 914.2,947.5 914.4,937.7 915.2,950.4 915.8,934.2 915.5,935.6 915.8,937.2 916.2,939.7 916.9,939.8 916.2,949.8 916.6,951.0 917.4,960.0 917.8,956.3 917.7,957.5 918.0,964.7 918.7,961.8 918.9,950.8 918.9,953.4 919.7,946.3 920.0,954.2 919.5,951.7 919.7,936.8 920.6,936.6 921.2,939.2 920.8,943.5 920.7,939.2 921.5,931.4 921.2,926.2 922.5,940.8 921.8,930.9 922.9,945.9 922.9,936.8 922.9,944.3 922.6,946.6 923.2,949.6 923.1,947.6 923.9,961.7 924.0,959.6 924.3,964.2 924.2,968.1 924.5,966.9 924.4,971.9 924.3,958.8 924.7,956.2 925.8,963.4 926.0,950.0 926.0,967.2 926.4,954.2 926.6,944.1 926.5,942.8 927.1,945.1 928.0,937.2 927.6,937.3 927.8,934.9 928.2,936.6 928.8,934.3 928.5,946.5 929.2,949.6 929.8,946.5 929.8,955.3 929.6,951.9 930.1,954.8 930.9,946.1 930.5,945.7 930.8,949.7 931.3,972.5 931.7,964.7 931.9,957.9 932.4,954.6 933.1,961.8 932.8,948.5 933.8,961.6 934.1,947.6 934.9,935.5 934.1,950.2 934.9,931.2 935.5,949.8 935.8,932.9 935.7,924.0 937.0,930.9 936.9,928.5 937.7,921.2 937.1,923.7 937.6,926.6 937.7,937.1 938.0,931.8 937.9,955.1 938.4,947.4 938.9,950.6 938.8,948.4 939.1,956.1 940.3,960.1 940.5,954.2 940.4,963.2 940.5,961.5 941.8,959.5 942.4,958.1 943.5,961.9 943.8,948.8 944.7,947.3 946.0,944.0 946.0,948.9 946.8,962.1 948.6,954.7 949.1,961.8 950.1,950.1 951.6,947.8 953.3,956.6 954.5,942.7 956.3,950.2 957.6,937.2 958.1,939.6 959.4,932.5 960.6,938.6 965.9,964.7 969.3,950.2 975.1,937.2 979.5,956.0 986.7,953.1 1082.3,954.5 1089.5,948.7 1104.0,951.6 1105.4,958.9 1108.3,947.3 1114.1,941.5 1119.9,948.7 1128.6,950.2 1140.2,958.9 1151.8,948.7 1163.4,943.0 1172.1,934.3 1176.4,964.7 1176.7,958.3 1177.4,960.2 1178.0,959.3 1178.2,955.0 1178.1,956.9 1178.8,956.8 1179.2,949.1 1179.0,948.5 1179.5,932.6 1179.5,930.6 1180.1,937.5 1180.7,931.4 1180.7,925.7 1181.5,937.8 1180.8,930.8 1181.2,939.3 1182.3,953.4 1182.2,942.2 1182.2,947.4 1182.3,943.4 1182.8,961.7 1183.2,950.3 1183.2,954.5 1183.7,962.4 1183.6,966.1 1185.0,974.7 1184.9,968.4 1186.7,974.1 1187.0,976.6 1188.0,980.6 1188.7,986.2 1188.8,984.1 1189.3,964.7 1189.9,968.0 1189.4,976.0 1189.8,965.5 1190.7,968.6 1191.0,953.0 1191.3,950.0 1192.0,950.2 1192.3,950.2 1193.1,942.3 1193.1,939.6 1194.4,948.0 1194.7,940.9 1194.7,928.9 1195.7,932.6 1195.8,929.9 1195.5,926.2 1195.8,939.3 1197.0,932.0 1197.2,937.0 1197.3,949.9 1197.5,951.3 1197.4,938.8 1197.8,952.4 1197.7,951.2 1198.1,946.9 1198.3,956.3 1198.8,965.1 1198.9,973.1 1199.7,974.5 1199.6,969.0 1200.3,969.6 1200.7,969.3 1201.0,962.7 1202.0,958.6 1202.0,947.3 1202.3,950.0 1203.5,955.0 1203.9,947.3 1204.6,946.5 1205.4,948.8 1205.6,947.8 1206.1,962.1 1206.9,969.4 1206.8,964.7 1207.3,968.4 1207.7,961.3 1207.4,956.7 1208.5,948.6 1209.0,951.7 1208.6,938.5 1208.9,939.1 1209.5,950.2 1210.1,942.0 1209.8,929.5 1210.3,934.3 1210.8,937.9 1211.2,937.2 1211.7,936.7 1211.3,940.4 1212.0,955.2 1211.8,952.7 1212.8,947.6 1212.3,956.8 1213.5,965.4 1213.7,959.2 1213.6,964.0 1214.0,966.1 1216.9,947.3 1222.7,958.9 1230.0,947.3 1235.8,951.6 1250.2,948.7 1253.7,943.0 1257.5,950.2 1263.3,954.5 1270.5,948.7 1279.2,953.1 1287.9,947.9 1294.5,953.1 1314.8,956.6 1340.8,956.0 1346.6,949.6 1361.1,947.3 1378.5,950.2 1395.8,956.6 1427.7,956.0 1429.1,937.2 1429.9,936.0 1429.4,944.4 1430.5,939.1 1429.6,940.3 1430.5,952.3 1430.3,947.0 1431.1,958.4 1431.5,962.6 1431.0,960.6 1432.2,972.3 1432.0,966.1 1432.0,970.2 1432.6,969.0 1432.2,961.9 1433.1,955.1 1432.4,947.0 1432.6,942.4 1432.8,949.8 1432.9,949.8 1433.8,948.3 1434.1,943.7 1434.4,945.7 1434.1,934.3 1434.6,945.9 1434.3,932.0 1434.5,936.7 1435.2,944.2 1435.9,952.4 1435.6,948.5 1436.4,950.7 1436.3,957.6 1436.9,962.0 1437.4,970.0 1438.2,955.6 1438.4,970.8 1438.1,961.9 1438.7,971.9 1438.9,966.3 1439.5,974.4 1439.4,959.5 1439.8,964.6 1440.4,959.4 1440.1,952.1 1441.0,952.8 1440.3,948.1 1440.8,950.0 1440.9,939.7 1441.2,940.9 1442.5,939.3 1442.2,935.7 1442.4,946.8 1442.3,938.5 1443.5,934.5 1443.8,944.1 1443.2,944.8 1444.0,950.0 1444.4,946.5 1444.4,966.9 1445.0,960.1 1444.8,959.1 1445.7,966.1 1446.6,967.0 1446.4,952.0 1446.7,963.2 1447.1,956.9 1448.0,955.2 1448.1,940.7 1447.7,952.0 1448.6,951.3 1449.4,949.3 1449.4,938.6 1449.7,950.8 1450.6,951.3 1450.3,951.8 1451.1,958.1 1452.2,946.2 1451.9,949.8 1452.4,952.8 1453.1,952.2 1452.9,961.3 1453.8,964.7 1454.1,959.9 1455.9,967.1 1455.9,948.0 1457.5,963.6 1458.0,945.3 1458.4,957.8 1459.6,947.3 1460.8,940.9 1460.6,951.2 1461.4,960.1 1462.3,963.2 1462.8,960.9 1463.9,963.2 1465.6,964.2 1465.7,950.0 1467.5,952.1 1468.4,951.2 1469.7,948.7 1471.0,954.8 1471.9,944.3 1473.5,940.1 1473.7,943.5 1474.7,938.2 1474.9,951.8 1474.8,955.7 1475.8,953.2 1476.5,961.3 1476.4,958.3 1476.8,958.7 1477.7,954.3 1478.4,966.1 1478.8,962.5 1479.8,968.9 1480.1,958.6 1481.1,963.8 1482.0,962.0 1481.9,943.6 1482.7,947.3 1485.0,936.8 1486.1,947.0 1487.9,940.1 1489.0,940.8 1490.4,942.0 1491.0,955.1 1491.4,948.8 1492.9,954.5 1500.1,951.6 1558.0,955.4 1647.8,955.4 1649.2,933.4 1653.6,945.8 1659.4,954.5 1664.6,940.1 1668.1,951.6 1673.9,954.5 1684.0,951.6 1694.1,945.8 1704.3,953.1 1714.4,944.4 1731.8,945.8 1735.3,960.3 1739.0,943.0 1752.1,940.1 1762.2,947.3 1770.9,937.2 1776.7,943.0 1785.4,937.2 1798.4,941.5 1801.3,958.9 1810.0,945.8 1815.8,938.6 1824.5,941.5 1831.7,938.6 1838.9,948.7 1844.7,941.5 1853.0,946.7 1877.6,948.7 1887.8,956.0 1895.0,950.2 1908.1,949.6 1926.9,956.0 1935.6,950.2 1944.3,956.6 1971.8,956.0 1973.8,934.3 1974.1,938.3 1974.1,938.9 1974.3,934.6 1975.0,938.5 1976.1,943.5 1975.6,956.3 1976.5,949.0 1976.9,958.8 1976.7,961.6 1976.9,957.4 1977.6,964.7 1980.2,966.4 1981.9,970.5 1982.6,961.6 1982.0,956.6 1982.9,963.7 1982.3,951.1 1983.5,957.1 1983.8,945.7 1983.7,944.5 1984.1,951.4 1984.2,941.2 1984.9,936.4 1984.0,944.8 1984.8,938.6 1986.2,928.1 1988.6,934.3 1988.8,939.8 1989.6,943.8 1988.9,945.0 1990.1,937.6 1990.3,942.9 1990.1,940.6 1990.9,953.2 1991.4,954.8 1990.8,952.7 1991.2,969.4 1991.4,955.6 1992.0,966.1 1992.3,955.3 1992.9,963.0 1993.7,951.7 1993.5,955.0 1994.7,951.4 1995.0,957.6 1995.0,942.5 1995.9,944.9 1996.4,941.5 1998.3,945.5 1999.5,945.8 2001.1,956.6 2002.2,953.1 2003.4,948.1 2004.8,955.4 2007.0,956.2 2008.0,963.2 2009.3,963.3 2010.8,950.6 2011.8,952.3 2012.1,955.3 2013.8,950.2 2015.5,949.2 2015.8,954.2 2017.5,945.2 2019.0,940.1 2019.7,938.1 2019.8,942.0 2020.0,939.5 2021.2,948.8 2021.9,944.7 2021.7,949.6 2023.0,963.9 2023.4,961.0 2022.9,961.9 2023.9,966.1 2024.3,954.1 2025.4,956.3 2025.6,957.7 2027.3,963.1 2027.5,944.0 2028.2,948.7 2030.3,938.5 2031.8,935.0 2033.5,940.1 2034.6,943.8 2034.5,941.5 2035.3,957.8 2035.7,946.1 2036.4,962.6 2036.9,957.4 2048.5,951.6 2115.1,954.5 2228.1,956.0 2228.1,955.8 2228.9,947.2 2228.9,948.3 2228.3,936.5 2229.4,941.7 2229.0,947.6 2229.3,936.8 2229.1,938.8 2229.5,931.4 2229.5,933.4 2230.4,938.6 2230.0,933.4 2231.0,946.1 2230.6,953.8 2230.9,940.5 2231.2,948.4 2232.1,958.9 2231.9,958.5 2232.1,958.8 2232.6,957.1 2232.7,966.6 2233.1,970.1 2233.9,967.6 2235.8,970.8 2238.2,970.5 2238.9,967.5 2239.7,973.1 2239.6,959.1 2240.8,952.6 2240.8,955.3 2242.0,947.0 2242.2,956.4 2242.5,948.7 2244.3,942.1 2246.0,950.9 2247.3,960.5 2248.3,960.3 2249.1,964.2 2250.3,952.0 2251.2,952.6 2252.1,952.1 2252.7,947.3 2253.9,938.1 2254.4,932.5 2255.6,944.7 2256.6,928.1 2257.0,934.3 2257.6,936.6 2257.7,934.0 2259.2,949.2 2258.9,951.4 2259.9,945.6 2260.5,945.4 2260.6,943.9 2261.4,956.0 2267.2,950.2 2271.5,960.3 2275.9,947.3 2280.2,958.9 2287.4,948.7 2293.2,956.0 2301.9,950.2 2309.2,953.1 2314.1,945.8 2317.8,953.1 2352.0,951.6 2353.5,905.3 2356.1,905.3 2357.5,954.5 2365.6,937.2 2370.0,948.7 2378.7,944.4 2384.5,941.5 2390.2,934.3 2394.6,945.8 2401.8,938.6 2406.2,956.0 2412.0,950.2"/>
<polyline class="o" points="127.7,1053.6 2412.3,1053.6"/>
<polyline class="b" points="127.7,1148.1 137.4,1147.3 157.6,1153.9 163.4,1159.7 169.2,1151.0 206.9,1151.0 235.8,1155.4 273.5,1156.8 276.4,1142.3 283.6,1146.1 293.8,1153.9 316.9,1159.7 325.6,1158.3 327.9,1139.4 334.3,1142.3 341.5,1168.4 348.8,1161.2 357.5,1180.0 364.7,1169.8 374.9,1190.1 383.5,1181.4 389.3,1145.2 395.1,1149.6 398.0,1143.8 402.4,1152.5 409.6,1152.5 422.6,1146.1 427.0,1127.8 431.3,1145.2 438.6,1152.5 450.1,1146.7 473.3,1151.0 508.1,1151.0 513.3,1162.6 518.2,1151.0 553.0,1151.0 554.4,1116.3 555.2,1125.2 555.4,1117.2 555.3,1127.6 556.3,1132.2 556.7,1135.1 557.0,1138.5 558.1,1133.8 558.3,1141.6 558.7,1140.9 559.5,1139.0 561.3,1130.6 562.4,1135.8 563.1,1129.3 564.3,1128.8 564.2,1140.3 565.8,1136.1 565.8,1134.0 567.2,1138.5 568.4,1146.8 568.3,1150.7 569.2,1158.7 570.7,1153.3 571.2,1159.4 571.8,1158.3 573.0,1164.9 572.9,1150.6 574.4,1147.1 575.2,1140.4 576.4,1146.3 576.3,1146.5 577.6,1140.9 578.7,1132.6 580.3,1129.1 581.3,1140.7 583.2,1121.9 584.7,1119.5 585.7,1126.4 586.0,1136.8 586.9,1127.9 587.1,1132.1 587.3,1146.4 587.8,1138.0 589.1,1140.1 589.9,1139.8 590.4,1154.8 590.6,1157.3 590.8,1158.8 591.8,1155.4 591.9,1161.6 592.3,1152.3 593.3,1158.4 593.5,1165.5 594.0,1168.2 594.1,1150.8 594.5,1159.0 595.3,1149.9 595.9,1160.0 596.1,1147.4 597.3,1148.5 597.1,1143.1 597.8,1140.9 598.2,1136.7 598.4,1142.6 599.3,1145.6 599.5,1160.8 600.2,1152.1 600.1,1153.7 600.3,1159.7 600.7,1162.6 601.5,1168.4 601.3,1148.0 601.9,1146.4 601.8,1157.6 602.3,1153.9 603.0,1155.6 604.0,1136.2 603.6,1150.6 604.5,1137.9 605.1,1142.9 605.2,1133.7 605.1,1129.1 605.5,1131.5 606.5,1119.7 606.9,1116.3 606.7,1124.2 607.5,1126.5 608.0,1116.3 608.4,1122.7 608.2,1127.8 608.4,1126.3 609.7,1134.4 610.0,1128.3 610.1,1137.4 609.7,1142.9 611.0,1135.8 611.1,1138.5 610.8,1146.2 610.9,1150.5 612.3,1143.2 612.5,1141.9 612.3,1152.5 615.7,1149.7 618.1,1155.4 619.0,1151.3 619.3,1140.9 618.6,1153.3 619.6,1145.1 619.3,1135.5 620.0,1130.4 621.1,1141.4 621.4,1137.4 621.0,1122.7 621.8,1120.7 621.9,1124.7 622.2,1114.5 622.0,1120.3 622.3,1117.7 622.8,1110.3 623.2,1113.1 623.9,1109.0 627.4,1103.0 631.1,1107.6 631.8,1111.5 633.7,1111.4 633.8,1112.1 635.0,1119.7 636.7,1122.3 637.0,1120.4 638.4,1126.4 638.7,1122.5 639.1,1130.5 639.8,1121.3 640.4,1118.2 640.9,1110.2 641.2,1119.0 641.0,1109.6 641.7,1096.0 641.7,1106.6 642.7,1098.9 643.0,1105.7 643.7,1101.8 644.3,1108.0 646.0,1104.6 646.4,1120.8 646.8,1114.8 648.1,1125.1 648.1,1124.0 648.8,1116.2 650.0,1126.4 651.6,1120.3 652.6,1136.3 653.4,1138.4 654.3,1136.5 655.0,1129.8 655.2,1125.5 656.2,1133.9 656.6,1120.4 656.8,1118.6 657.6,1125.3 658.3,1122.0 658.4,1120.6 658.2,1114.5 658.6,1107.4 659.2,1115.9 660.1,1104.7 662.4,1111.3 665.9,1101.8 666.7,1103.2 666.9,1098.5 666.4,1100.4 666.6,1102.9 667.8,1107.2 667.8,1113.4 667.6,1118.9 668.0,1132.3 668.5,1127.6 669.0,1130.9 669.2,1126.7 669.1,1141.2 669.5,1135.5 670.5,1140.6 671.0,1147.7 670.8,1137.2 671.2,1146.6 671.8,1150.4 671.7,1152.5 672.3,1155.9 672.4,1153.9 673.3,1138.1 673.7,1149.3 674.0,1136.5 673.6,1130.0 674.2,1141.3 674.5,1122.4 674.8,1121.3 675.6,1131.9 676.3,1116.3 676.1,1114.4 677.1,1125.5 677.0,1125.1 677.3,1119.2 677.7,1108.7 678.7,1115.3 678.6,1113.2 679.0,1109.3 678.7,1093.9 679.1,1100.4 680.2,1089.2 680.3,1085.8 680.9,1096.0 680.6,1097.3 681.7,1078.3 681.8,1083.0 682.2,1079.1 683.2,1096.3 683.1,1084.9 684.2,1100.6 684.9,1095.5 684.7,1101.2 685.7,1107.5 686.4,1108.8 687.4,1109.4 687.9,1105.4 687.4,1119.7 687.9,1124.5 689.1,1117.7 690.5,1107.0 691.7,1117.4 693.3,1113.3 694.4,1115.1 696.2,1112.7 697.3,1107.3 699.2,1101.8 699.6,1097.3 699.5,1097.1 700.9,1086.2 700.9,1081.8 702.0,1097.5 702.0,1085.5 701.7,1075.9 702.9,1086.2 703.7,1084.8 703.5,1070.5 704.0,1069.6 704.4,1069.9 704.8,1079.9 705.1,1084.3 705.7,1069.0 706.1,1083.4 706.3,1073.3 707.0,1085.4 706.9,1081.7 706.7,1081.3 707.2,1089.4 707.5,1087.3 708.6,1102.3 709.1,1095.5 709.3,1105.4 709.3,1106.1 709.2,1109.7 710.1,1098.9 710.4,1095.5 710.7,1112.3 711.2,1104.6 712.1,1106.8 712.7,1104.2 712.9,1116.4 713.7,1119.6 713.7,1122.8 715.0,1122.4 715.1,1131.9 715.1,1123.6 715.9,1130.7 723.2,1098.9 729.0,1106.1 737.6,1126.4 752.1,1116.3 765.2,1109.0 781.1,1116.3 795.6,1118.3 810.0,1116.3 812.9,1103.2 821.6,1107.6 827.4,1106.1 839.0,1110.5 844.8,1109.0 853.5,1113.4 866.5,1125.0 917.2,1130.7 917.9,1124.9 917.4,1123.4 918.2,1123.6 918.2,1114.8 917.6,1120.0 917.7,1117.6 918.1,1105.6 917.8,1108.8 918.4,1101.9 918.2,1096.5 918.3,1098.8 918.6,1100.7 919.3,1100.1 919.3,1090.5 919.1,1095.0 919.2,1088.8 920.1,1087.2 919.4,1086.8 920.4,1102.5 920.3,1103.7 921.3,1107.6 922.0,1098.1 922.2,1101.2 921.8,1108.0 922.6,1105.3 923.0,1114.8 924.2,1111.8 925.5,1112.7 926.8,1116.8 928.8,1123.5 928.9,1125.1 929.6,1131.1 929.6,1129.4 930.1,1130.2 929.8,1131.8 930.7,1135.1 930.5,1141.4 931.1,1146.7 931.5,1146.3 931.8,1142.7 931.7,1145.0 932.7,1134.1 932.6,1134.1 932.5,1132.4 933.8,1125.1 933.6,1120.6 934.4,1119.8 934.1,1122.4 934.6,1116.3 936.4,1120.3 938.3,1112.9 940.4,1109.0 941.2,1113.4 942.5,1108.5 944.1,1112.3 944.7,1120.6 945.5,1120.9 946.1,1112.8 946.8,1121.0 947.0,1116.6 948.5,1107.6 949.2,1107.6 950.2,1110.5 950.5,1100.3 951.2,1100.6 951.8,1112.2 952.7,1101.4 953.5,1104.8 953.9,1116.0 954.9,1116.3 957.2,1114.0 959.2,1110.5 960.3,1114.7 961.2,1120.5 961.1,1122.6 962.1,1120.6 962.5,1125.1 963.4,1114.1 963.4,1118.4 964.2,1102.4 965.0,1107.6 965.6,1102.3 964.9,1105.4 965.9,1116.5 965.9,1125.2 966.2,1116.1 967.0,1117.3 966.1,1121.7 967.5,1127.5 967.0,1129.4 967.2,1138.2 967.8,1133.2 967.5,1144.5 968.2,1142.1 968.0,1152.4 968.6,1154.1 969.1,1152.3 968.5,1159.3 969.3,1155.4 973.7,1146.7 976.6,1129.3 982.4,1127.8 989.6,1129.9 1033.0,1132.2 1070.7,1136.5 1082.3,1139.4 1085.2,1153.9 1101.1,1155.4 1104.0,1168.4 1106.9,1151.0 1111.2,1219.1 1117.0,1229.2 1124.3,1235.0 1130.1,1219.1 1138.7,1210.4 1143.1,1191.6 1146.0,1204.6 1150.3,1171.3 1159.0,1210.4 1172.1,1210.4 1176.4,1219.1 1180.7,1138.0 1184.2,1140.9 1188.0,1219.1 1189.4,1125.0 1192.3,1120.6 1198.1,1114.8 1201.0,1119.2 1208.3,1093.1 1212.6,1103.2 1216.9,1091.6 1221.3,1106.1 1227.1,1132.2 1230.0,1123.5 1235.8,1093.1 1244.5,1093.1 1250.2,1090.2 1260.4,1107.6 1266.2,1125.0 1274.9,1132.2 1285.0,1127.8 1293.0,1130.7 1297.4,1126.4 1303.2,1140.9 1307.5,1136.5 1337.9,1132.2 1342.3,1123.5 1345.2,1142.3 1351.0,1123.5 1361.1,1125.0 1375.6,1129.3 1390.0,1138.0 1424.8,1143.8 1427.7,1162.6 1430.6,1096.0 1434.9,1097.4 1435.5,1094.8 1434.8,1105.2 1435.6,1101.7 1436.2,1103.2 1435.8,1110.9 1435.7,1116.0 1436.0,1120.0 1436.5,1113.0 1436.2,1122.6 1436.3,1126.1 1436.1,1122.5 1436.9,1126.6 1436.7,1131.9 1437.3,1137.7 1437.5,1138.4 1437.4,1145.9 1438.1,1149.0 1437.8,1146.7 1439.2,1146.0 1439.2,1143.5 1440.2,1135.4 1441.2,1129.1 1442.2,1132.2 1442.3,1131.1 1442.3,1136.9 1443.2,1142.5 1442.9,1146.1 1443.3,1144.3 1443.5,1146.1 1443.5,1157.6 1444.2,1156.4 1444.5,1157.2 1444.7,1153.6 1444.3,1163.2 1445.1,1165.5 1445.4,1156.6 1445.5,1157.7 1446.7,1161.8 1446.0,1153.5 1446.7,1147.6 1447.0,1155.8 1448.1,1144.0 1448.3,1139.5 1448.5,1136.3 1448.9,1140.2 1449.6,1137.3 1449.4,1133.6 1451.7,1127.8 1453.2,1124.8 1454.3,1132.2 1456.7,1123.5 1457.2,1124.2 1458.6,1124.8 1460.3,1134.4 1461.0,1133.6 1461.6,1131.6 1462.8,1122.2 1463.4,1129.5 1464.0,1122.4 1464.3,1114.9 1465.3,1116.3 1465.7,1117.2 1466.5,1125.3 1467.1,1119.6 1468.6,1126.5 1468.5,1133.9 1469.1,1130.9 1470.3,1135.5 1471.1,1138.0 1472.6,1140.9 1474.9,1130.7 1476.7,1128.9 1478.4,1127.8 1478.7,1131.7 1478.7,1137.8 1478.8,1141.2 1479.4,1138.4 1479.4,1141.0 1479.9,1144.9 1480.6,1141.0 1480.2,1153.8 1480.6,1153.6 1481.3,1153.9 1481.9,1160.2 1481.4,1161.1 1482.8,1156.1 1482.1,1169.7 1483.3,1170.1 1483.8,1171.6 1483.4,1168.6 1484.2,1175.6 1484.2,1175.0 1485.6,1176.5 1485.7,1163.0 1486.5,1170.5 1487.0,1167.1 1488.1,1162.9 1488.5,1156.8 1495.8,1149.6 1508.8,1155.4 1540.6,1159.7 1646.3,1168.4 1649.2,1188.7 1652.1,1155.4 1659.4,1156.8 1665.2,1162.6 1669.5,1159.7 1675.3,1164.0 1684.0,1159.7 1691.2,1165.5 1699.9,1158.3 1704.3,1174.2 1710.1,1171.3 1714.4,1146.7 1727.4,1146.1 1730.3,1132.2 1733.2,1155.4 1737.6,1123.5 1744.8,1139.4 1750.6,1140.9 1760.7,1149.6 1769.4,1146.1 1775.2,1149.6 1781.0,1143.8 1786.8,1149.6 1795.5,1146.7 1799.8,1113.4 1802.7,1114.8 1810.0,1158.3 1814.3,1162.6 1830.2,1155.9 1838.9,1162.6 1849.1,1159.7 1886.3,1164.6 1889.2,1177.1 1893.6,1165.5 1900.8,1162.6 1932.7,1166.9 1939.9,1174.2 1971.8,1174.2 1973.8,1187.2 1976.7,1151.0 1981.9,1181.4 1987.7,1165.5 1990.6,1182.9 1994.9,1162.6 2006.5,1156.8 2010.9,1140.9 2013.8,1169.8 2018.1,1162.6 2022.5,1149.6 2026.8,1168.4 2028.2,1200.2 2032.6,1166.9 2036.9,1172.7 2071.7,1173.3 2129.6,1174.2 2228.1,1175.6 2231.0,1184.3 2230.7,1185.6 2231.2,1182.2 2230.9,1173.9 2231.7,1171.0 2231.8,1166.3 2231.6,1170.4 2231.8,1172.2 2232.0,1161.0 2232.2,1162.6 2232.3,1164.4 2232.3,1156.8 2233.3,1150.1 2232.7,1150.6 2233.5,1152.3 2233.3,1145.2 2238.2,1143.8 2239.1,1149.1 2238.7,1154.3 2239.2,1145.3 2240.1,1147.9 2240.1,1152.7 2241.7,1156.3 2242.0,1167.5 2241.7,1159.3 2242.5,1166.9 2242.4,1171.4 2243.2,1170.0 2243.6,1169.5 2242.9,1175.9 2243.9,1184.7 2244.4,1188.2 2244.7,1187.1 2244.3,1182.6 2244.6,1196.3 2245.1,1193.3 2245.2,1199.8 2245.8,1201.8 2245.4,1201.7 2245.8,1204.8 2246.5,1189.9 2246.8,1190.9 2245.9,1188.2 2246.3,1181.7 2247.3,1183.7 2246.8,1185.5 2247.1,1177.9 2247.6,1174.9 2248.3,1170.5 2248.6,1171.2 2248.4,1166.8 2249.3,1163.0 2248.9,1160.5 2248.8,1154.7 2249.8,1162.1 2249.8,1155.4 2253.2,1155.3 2257.0,1156.8 2258.1,1154.0 2258.2,1165.6 2258.9,1162.3 2259.9,1168.4 2260.6,1162.8 2260.8,1157.2 2262.4,1164.2 2262.2,1152.5 2263.2,1155.2 2264.3,1150.5 2264.0,1153.7 2264.7,1143.2 2265.7,1143.8 2266.8,1146.1 2269.2,1137.4 2270.1,1136.5 2270.9,1136.3 2271.5,1134.7 2272.0,1130.8 2272.6,1120.4 2273.3,1117.9 2274.4,1119.2 2275.6,1118.8 2275.8,1118.7 2276.7,1131.0 2277.1,1137.0 2276.9,1137.0 2277.7,1142.2 2278.7,1139.4 2281.6,1139.4 2281.2,1139.7 2282.1,1144.5 2282.6,1142.0 2282.9,1144.1 2283.2,1156.6 2282.2,1150.0 2282.5,1153.1 2282.8,1157.4 2283.4,1163.7 2283.3,1172.7 2283.9,1169.3 2284.4,1173.4 2284.6,1178.8 2284.2,1182.1 2284.5,1180.0 2285.8,1171.3 2286.5,1177.3 2288.0,1174.9 2288.9,1169.8 2293.2,1127.8 2306.3,1125.0 2310.6,1093.1 2314.9,1094.5 2317.8,1123.5 2325.1,1152.5 2343.9,1151.0 2352.6,1145.2 2356.9,1153.9 2362.7,1148.1 2368.5,1161.2 2378.7,1158.3 2401.8,1159.7 2404.7,1110.5 2412.0,1109.0"/>
<polyline class="o" points="127.7,1140.3 132.7,1139.9 137.8,1140.3 142.8,1140.0 147.8,1140.4 152.9,1140.4 157.9,1139.5 162.9,1139.4 168.0,1140.7 173.0,1139.8 178.0,1139.7 183.1,1140.9 188.1,1140.1 193.1,1140.6 198.2,1140.0 203.2,1140.3 208.2,1139.5 213.3,1140.3 218.3,1140.6 223.3,1140.0 228.4,1140.4 233.4,1140.3 238.4,1139.3 243.5,1140.4 248.5,1140.1 253.5,1139.6 258.6,1139.1 263.6,1140.5 268.7,1139.8 273.7,1140.2 278.7,1140.4 283.8,1140.2 288.8,1140.5 293.8,1139.6 298.9,1140.3 303.9,1139.7 308.9,1140.4 314.0,1140.3 319.0,1139.1 324.0,1139.1 329.1,1139.2 334.1,1140.4 339.1,1139.5 344.2,1139.8 349.2,1139.3 354.2,1139.6 359.3,1139.4 364.3,1139.3 369.3,1139.7 374.4,1139.7 379.4,1140.2 384.4,1139.8 389.5,1140.2 394.5,1140.0 399.5,1140.2 404.6,1139.7 409.6,1139.4 421.2,1138.0 423.5,1119.2 425.5,1119.2 428.4,1139.4 438.6,1141.5 443.6,1141.0 448.6,1142.1 453.7,1142.3 458.7,1142.3 463.7,1141.8 468.8,1142.0 473.8,1141.3 478.9,1142.3 483.9,1141.9 488.9,1141.5 494.0,1141.2 499.0,1142.5 504.0,1142.7 509.1,1141.3 514.1,1142.5 519.1,1141.9 524.2,1141.5 529.2,1141.8 534.3,1142.6 539.3,1142.8 544.3,1141.5 549.4,1142.5 554.4,1142.3 559.4,1141.4 564.5,1142.4 569.5,1141.6 574.6,1142.3 579.6,1142.3 584.6,1141.4 589.7,1142.0 594.7,1140.7 599.7,1140.2 604.8,1140.9 609.8,1139.8 614.8,1139.9 619.9,1140.1 624.9,1140.2 630.0,1139.3 635.0,1139.0 640.0,1140.1 645.1,1139.1 650.1,1140.0 655.1,1139.7 660.2,1138.7 665.2,1138.7 670.2,1138.6 675.2,1138.4 680.3,1138.4 685.3,1138.1 690.3,1137.8 695.3,1137.7 700.3,1138.1 705.3,1137.2 710.3,1136.8 715.3,1137.1 720.3,1136.5 723.2,1116.3 726.1,1116.3 729.0,1136.5 740.5,1140.3 745.6,1139.9 750.7,1140.0 755.7,1141.1 760.8,1140.4 765.9,1140.5 771.0,1139.6 776.0,1140.3 781.1,1140.6 786.2,1139.7 791.2,1140.7 796.3,1140.7 801.4,1139.8 806.4,1140.7 811.5,1140.5 816.6,1140.9 821.6,1140.4 826.7,1140.9 831.8,1141.0 836.8,1139.9 841.9,1140.0 847.0,1141.0 852.0,1141.4 857.1,1140.3 862.2,1140.7 867.2,1140.9 872.3,1140.5 877.4,1140.6 882.5,1140.5 887.5,1140.6 892.6,1141.0 897.7,1140.5 902.7,1140.9 908.0,1140.7 913.3,1141.3 918.5,1140.1 923.8,1141.0 929.0,1141.3 934.3,1140.6 939.6,1140.4 944.8,1141.4 950.1,1140.5 955.4,1140.4 960.6,1140.9 965.7,1140.9 970.7,1141.5 975.8,1140.7 980.8,1141.2 985.8,1141.4 990.9,1142.3 995.9,1141.8 1000.9,1142.7 1006.0,1141.7 1011.0,1142.1 1016.0,1142.8 1021.1,1143.3 1026.1,1142.8 1031.2,1142.6 1036.2,1142.5 1041.2,1143.3 1046.3,1143.0 1051.3,1144.1 1056.3,1144.3 1061.4,1143.4 1066.4,1143.7 1071.4,1144.7 1076.5,1144.4 1081.6,1144.7 1086.6,1145.0 1091.7,1144.4 1096.8,1144.1 1101.8,1144.5 1106.9,1145.3 1112.0,1144.6 1117.0,1144.8 1122.1,1145.0 1127.2,1145.1 1132.2,1145.2 1137.3,1146.1 1142.4,1144.9 1147.4,1144.8 1152.5,1146.4 1157.6,1146.4 1162.6,1146.6 1167.7,1145.8 1172.8,1146.7 1177.8,1146.1 1185.1,1144.9 1192.3,1142.3 1197.6,1141.7 1202.9,1142.4 1208.1,1142.3 1213.4,1141.9 1218.7,1141.4 1223.9,1140.9 1229.2,1140.8 1234.4,1140.4 1239.7,1140.0 1245.0,1140.6 1250.2,1140.3 1252.6,1130.7 1255.5,1130.7 1260.4,1142.3 1265.8,1142.3 1271.2,1143.5 1276.6,1142.7 1282.0,1144.4 1287.4,1144.4 1292.8,1145.1 1298.2,1145.4 1303.6,1145.8 1309.0,1145.5 1314.1,1145.7 1319.2,1144.8 1324.3,1146.0 1329.4,1145.1 1334.5,1145.4 1339.6,1146.0 1344.7,1145.8 1349.8,1145.6 1355.0,1146.5 1360.1,1146.0 1365.2,1145.6 1370.3,1145.5 1375.4,1146.5 1380.5,1146.0 1385.6,1146.5 1390.7,1145.8 1395.8,1146.1 1401.6,1145.6 1407.4,1146.1 1413.2,1146.6 1419.0,1145.6 1424.8,1146.1 1429.8,1147.2 1434.9,1148.1 1439.9,1148.5 1444.9,1149.2 1450.0,1148.6 1455.0,1150.2 1460.1,1151.3 1465.1,1150.6 1470.1,1151.6 1475.2,1152.3 1480.2,1153.3 1485.2,1153.8 1490.3,1154.6 1495.3,1155.7 1500.4,1155.1 1505.4,1155.9 1510.4,1156.6 1515.5,1157.3 1520.5,1157.8 1525.5,1159.9 1530.6,1160.4 1535.6,1159.8 1540.6,1161.2 1545.7,1161.5 1550.8,1161.5 1556.0,1161.9 1561.1,1162.3 1566.2,1163.1 1571.3,1163.4 1576.4,1163.3 1581.5,1163.4 1586.6,1164.0 1591.7,1164.0 1596.8,1165.0 1601.9,1165.6 1607.0,1165.4 1612.1,1165.3 1617.2,1165.8 1622.3,1166.5 1627.4,1167.2 1632.5,1167.8 1637.6,1167.5 1642.7,1168.5 1647.8,1168.4 1652.9,1168.3 1658.0,1167.7 1663.2,1167.3 1668.3,1167.2 1673.4,1167.3 1678.5,1166.5 1683.7,1166.7 1688.8,1166.0 1693.9,1165.4 1699.0,1165.6 1704.2,1165.5 1709.3,1164.2 1714.4,1164.6 1719.5,1164.3 1724.5,1164.1 1729.6,1164.7 1734.7,1164.6 1739.7,1163.5 1744.8,1164.2 1749.9,1163.8 1754.9,1162.8 1760.0,1162.9 1765.1,1162.2 1770.2,1163.1 1775.2,1162.7 1780.3,1162.9 1785.4,1162.6 1790.4,1162.2 1795.5,1161.7 1799.0,1143.8 1802.7,1143.8 1808.5,1165.5 1813.6,1166.2 1818.6,1166.2 1823.6,1165.8 1828.7,1166.9 1833.7,1166.3 1838.7,1166.8 1843.8,1168.1 1848.8,1167.3 1853.9,1167.7 1858.9,1168.0 1863.9,1169.6 1869.0,1169.3 1874.2,1168.9 1879.5,1168.9 1884.8,1170.4 1890.0,1169.4 1895.3,1170.7 1900.6,1170.6 1905.8,1171.1 1911.1,1171.5 1916.3,1171.0 1921.6,1171.6 1926.9,1171.3 1931.9,1170.6 1937.0,1171.8 1942.0,1171.4 1947.0,1171.8 1952.1,1170.8 1957.1,1171.9 1962.1,1172.2 1967.2,1170.9 1972.2,1171.3 1977.2,1171.8 1982.3,1172.2 1987.3,1171.3 1992.4,1171.3 1997.4,1171.4 2002.4,1172.0 2007.5,1172.3 2012.5,1171.8 2017.5,1171.8 2022.6,1171.8 2027.6,1171.8 2032.6,1172.0 2037.7,1171.5 2042.7,1172.2 2047.8,1172.0 2052.9,1172.6 2058.1,1171.5 2063.2,1171.9 2068.3,1170.8 2073.4,1171.4 2078.5,1171.4 2083.6,1171.1 2088.7,1170.7 2093.8,1170.4 2098.9,1170.5 2104.1,1170.7 2109.2,1169.4 2114.3,1169.1 2119.4,1170.0 2124.5,1170.1 2129.6,1169.3 2134.8,1169.2 2140.0,1169.0 2145.2,1169.3 2150.3,1168.4 2155.5,1168.4 2160.7,1168.2 2165.9,1168.8 2171.1,1168.2 2176.2,1168.0 2181.4,1168.7 2186.6,1169.0 2191.8,1167.8 2197.0,1168.4 2202.2,1167.8 2207.3,1168.5 2212.5,1167.9 2217.7,1167.3 2222.9,1167.2 2228.1,1167.5 2233.2,1166.2 2238.4,1166.4 2243.5,1165.7 2248.7,1164.8 2253.8,1164.6 2259.0,1164.0 2264.1,1164.1 2269.3,1162.6 2274.4,1162.6 2280.0,1162.9 2285.5,1161.6 2291.1,1161.3 2296.6,1160.6 2302.2,1160.7 2307.7,1159.7 2310.6,1145.2 2314.4,1145.2 2319.3,1164.0 2324.4,1164.6 2329.6,1164.3 2334.7,1164.3 2339.9,1164.7 2345.0,1165.0 2350.2,1164.4 2355.3,1165.0 2360.5,1165.4 2365.6,1164.7 2370.8,1164.4 2375.9,1164.5 2381.1,1165.4 2386.2,1165.4 2391.4,1165.9 2396.5,1165.8 2401.7,1164.9 2406.8,1164.9 2412.0,1165.5"/>
<polyline class="b" points="127.7,1386.6 130.1,1385.1 146.1,1375.0 154.8,1369.2 177.9,1366.3 235.8,1364.9 273.5,1364.9 277.8,1350.4 285.1,1344.6 305.3,1343.2 322.7,1341.7 331.4,1337.4 335.8,1291.0 344.4,1289.6 348.8,1296.8 353.1,1285.2 358.9,1301.2 364.7,1291.0 372.0,1278.0 380.6,1282.3 389.3,1283.8 398.0,1279.4 406.7,1289.6 415.4,1283.8 422.6,1285.2 425.5,1322.9 428.4,1366.3 438.6,1370.7 461.7,1369.2 464.6,1364.9 471.9,1367.8 479.1,1362.0 511.0,1363.4 514.4,1359.1 519.7,1369.2 531.2,1372.1 545.7,1370.7 551.5,1357.6 555.9,1382.2 556.6,1374.0 558.0,1370.1 558.8,1372.1 559.2,1371.7 560.1,1367.9 561.6,1366.3 561.8,1357.0 562.9,1366.0 563.2,1353.6 564.5,1362.5 565.1,1350.9 566.2,1342.6 566.7,1343.7 566.5,1338.2 567.4,1346.6 568.3,1338.8 568.2,1342.9 569.1,1342.3 569.2,1340.1 568.9,1345.2 570.0,1351.5 569.8,1356.8 570.3,1355.0 571.0,1364.2 570.6,1365.0 571.2,1372.6 571.8,1365.9 571.8,1372.1 573.3,1363.3 573.6,1370.9 574.3,1364.0 575.1,1364.2 576.9,1360.0 577.6,1356.2 578.7,1355.9 579.1,1363.2 579.6,1363.7 580.6,1374.2 580.8,1372.5 580.9,1375.8 582.3,1383.2 583.1,1374.6 583.4,1380.8 583.7,1380.9 583.7,1375.1 584.3,1367.0 584.6,1374.8 585.1,1364.0 585.9,1371.4 586.0,1362.1 587.0,1366.4 587.8,1363.6 587.6,1353.8 588.1,1358.8 589.3,1344.5 589.2,1347.5 589.9,1345.8 591.2,1352.5 592.7,1351.5 593.2,1356.6 594.9,1360.5 596.0,1364.5 597.8,1369.4 598.4,1371.1 599.8,1365.0 600.7,1375.0 603.0,1377.2 604.7,1375.1 605.8,1366.4 607.2,1367.9 609.4,1363.4 610.1,1359.4 611.4,1363.8 612.7,1365.0 613.5,1369.4 615.2,1377.9 615.5,1372.8 616.1,1378.1 617.5,1363.6 617.8,1363.9 618.7,1357.4 619.6,1360.5 623.9,1337.4 626.8,1291.0 635.5,1288.1 636.9,1294.7 637.4,1282.0 638.4,1279.4 638.7,1274.4 639.8,1280.1 641.2,1280.7 641.0,1298.4 642.4,1285.5 643.3,1285.8 644.1,1306.6 645.3,1303.8 645.6,1302.6 646.0,1297.2 646.5,1302.0 647.5,1299.3 647.9,1285.7 649.1,1297.4 649.8,1291.1 650.0,1282.3 651.5,1289.8 652.0,1288.5 653.3,1282.0 654.0,1289.7 655.8,1296.8 656.0,1297.9 657.3,1290.5 657.7,1298.2 658.2,1283.6 657.8,1278.3 658.3,1275.2 659.3,1285.9 660.0,1275.2 660.3,1278.7 660.1,1273.4 661.6,1273.0 661.6,1265.0 662.2,1267.3 661.9,1275.9 662.4,1278.9 663.6,1273.8 663.2,1287.1 664.0,1274.9 663.6,1277.3 664.9,1292.6 664.4,1295.7 665.8,1295.1 665.4,1295.8 665.5,1288.2 666.8,1303.1 666.7,1311.3 666.9,1312.8 667.4,1308.4 668.4,1300.0 668.3,1298.6 668.9,1301.4 669.5,1295.3 670.0,1301.8 670.9,1290.2 671.7,1288.1 672.1,1293.3 672.3,1291.0 672.8,1281.0 673.1,1268.5 673.4,1269.1 673.2,1278.4 673.8,1269.5 674.8,1268.5 674.7,1265.2 675.3,1267.7 675.1,1260.8 675.6,1252.8 676.6,1254.7 676.6,1251.9 677.2,1259.6 678.1,1256.3 678.2,1260.2 678.5,1266.5 678.9,1266.1 679.4,1276.7 680.2,1278.2 680.4,1273.6 681.5,1271.9 681.7,1288.0 682.7,1275.4 682.4,1284.1 683.0,1283.1 683.6,1294.3 684.7,1293.9 686.0,1299.0 686.1,1293.0 687.6,1279.5 688.8,1292.8 688.9,1289.9 690.0,1278.5 691.6,1282.6 692.0,1273.6 692.3,1275.0 693.4,1275.9 693.8,1278.1 695.1,1275.0 695.7,1285.8 696.3,1289.6 697.5,1284.3 699.9,1285.8 701.0,1292.8 703.6,1290.5 705.0,1279.4 705.1,1277.8 705.7,1290.6 706.6,1281.0 707.4,1298.9 708.5,1289.3 708.3,1304.9 709.3,1299.7 710.1,1296.8 710.9,1297.8 711.1,1282.5 712.5,1286.7 712.5,1293.6 713.9,1288.1 714.5,1279.4 714.6,1288.9 715.1,1291.6 716.2,1284.2 716.9,1298.1 717.4,1292.5 721.7,1291.0 725.5,1317.1 727.5,1362.0 734.8,1363.4 742.0,1369.2 752.1,1363.4 759.4,1373.6 810.0,1375.0 814.4,1370.7 818.7,1377.9 839.0,1379.4 856.4,1376.5 917.2,1375.0 919.1,1372.0 921.5,1380.8 922.4,1374.0 922.8,1370.2 923.6,1368.2 924.8,1367.3 925.9,1367.8 926.9,1367.3 927.3,1368.4 927.9,1368.7 928.5,1371.6 929.8,1383.1 930.2,1385.1 930.1,1382.1 931.2,1373.5 931.2,1376.1 931.1,1379.9 931.2,1372.0 931.7,1376.9 931.5,1371.9 932.2,1366.1 932.0,1358.8 931.8,1352.7 932.0,1359.8 932.5,1347.9 932.5,1356.1 933.6,1350.7 933.1,1341.2 933.3,1342.0 933.4,1339.1 934.0,1337.4 934.0,1347.4 935.1,1343.5 934.5,1352.8 934.8,1345.8 934.7,1348.8 935.6,1353.4 935.5,1356.1 935.5,1355.0 935.9,1359.8 936.1,1356.5 936.7,1362.5 937.3,1369.9 937.5,1372.1 938.6,1372.0 939.5,1372.9 939.9,1361.4 941.5,1355.9 942.1,1361.1 942.7,1356.2 943.0,1364.2 944.8,1363.5 945.4,1369.1 945.5,1367.2 946.8,1374.8 947.6,1372.1 950.1,1378.8 952.0,1375.0 952.9,1383.9 953.9,1383.3 954.2,1375.3 955.0,1383.2 956.3,1388.0 962.1,1372.1 966.4,1386.6 972.2,1370.7 978.0,1377.9 989.6,1376.5 1082.3,1374.4 1083.7,1385.1 1105.4,1385.1 1108.9,1375.0 1114.1,1386.6 1118.5,1398.2 1125.7,1382.2 1134.4,1383.7 1138.7,1373.6 1143.1,1343.2 1148.3,1360.5 1154.1,1321.4 1157.6,1401.1 1160.5,1412.7 1167.7,1415.6 1174.9,1412.7 1177.8,1372.1 1178.8,1374.2 1180.8,1369.4 1182.3,1367.9 1183.6,1363.4 1183.9,1354.5 1184.6,1361.4 1184.5,1356.1 1185.0,1347.4 1185.4,1347.2 1184.9,1344.8 1185.9,1341.4 1186.2,1348.7 1186.2,1338.5 1186.5,1339.7 1187.1,1336.3 1187.3,1326.7 1187.0,1326.4 1188.0,1324.4 1188.1,1318.1 1187.7,1318.8 1188.8,1321.6 1189.1,1313.8 1189.2,1313.5 1189.4,1311.3 1193.8,1309.8 1194.0,1302.2 1194.7,1300.5 1195.0,1307.2 1194.1,1298.4 1195.3,1302.2 1195.1,1290.5 1195.0,1296.4 1195.2,1289.0 1195.8,1285.2 1196.1,1288.4 1197.8,1286.3 1198.4,1294.0 1198.7,1296.8 1199.5,1296.7 1199.0,1296.4 1199.6,1282.5 1199.4,1285.8 1200.2,1280.6 1200.2,1278.4 1200.7,1282.0 1200.7,1278.1 1201.6,1272.2 1202.4,1270.1 1202.9,1280.4 1203.3,1277.7 1203.1,1281.8 1204.3,1287.0 1203.9,1287.7 1204.3,1285.6 1204.5,1298.4 1205.4,1296.8 1207.3,1300.9 1209.7,1293.9 1210.3,1288.3 1211.5,1284.7 1212.2,1291.9 1213.6,1287.5 1214.0,1280.9 1214.9,1288.8 1216.0,1286.8 1216.5,1283.1 1217.2,1290.9 1218.0,1296.0 1218.4,1296.8 1221.0,1288.9 1224.2,1292.5 1227.3,1284.8 1229.4,1286.7 1230.5,1287.6 1231.5,1295.5 1232.9,1295.4 1236.3,1292.8 1238.8,1293.8 1241.6,1296.8 1245.2,1296.9 1248.8,1299.7 1251.7,1325.8 1257.5,1369.2 1263.3,1379.4 1273.4,1375.0 1291.6,1375.0 1300.3,1369.2 1337.9,1372.1 1345.2,1367.8 1352.4,1372.1 1381.4,1370.7 1427.7,1370.7 1430.6,1362.0 1431.6,1360.5 1433.1,1373.0 1434.9,1367.1 1436.4,1373.6 1437.7,1377.0 1438.1,1363.2 1438.6,1359.6 1439.7,1356.7 1440.7,1359.1 1440.9,1358.9 1441.8,1369.8 1442.5,1366.7 1442.6,1371.0 1443.0,1371.5 1443.6,1376.5 1443.4,1370.9 1444.8,1366.2 1444.5,1369.9 1445.2,1361.8 1444.8,1359.5 1445.2,1359.3 1446.2,1361.7 1446.4,1348.3 1445.7,1354.4 1446.5,1348.9 1447.9,1351.5 1448.4,1348.3 1449.0,1363.1 1450.4,1365.1 1450.9,1363.4 1452.5,1357.3 1452.6,1353.2 1454.2,1357.1 1455.2,1351.8 1456.6,1357.2 1457.0,1360.2 1457.6,1359.9 1458.0,1365.4 1459.0,1369.6 1460.3,1364.2 1461.0,1369.2 1465.3,1367.8 1465.6,1367.2 1467.0,1375.6 1467.1,1370.2 1468.3,1379.4 1468.8,1377.5 1469.7,1383.7 1472.0,1374.5 1474.0,1377.9 1474.9,1374.9 1476.8,1374.7 1477.8,1370.0 1478.4,1367.8 1482.7,1377.9 1487.1,1367.8 1492.9,1372.1 1540.6,1371.5 1647.8,1369.8 1649.2,1356.2 1655.0,1344.6 1657.9,1322.9 1659.4,1298.3 1663.7,1291.0 1669.5,1292.5 1676.8,1288.1 1685.4,1288.1 1692.7,1279.4 1697.0,1265.0 1702.8,1289.6 1708.6,1273.6 1720.2,1275.1 1728.9,1272.2 1732.4,1263.5 1736.1,1292.5 1740.5,1279.4 1750.6,1272.2 1760.7,1275.1 1769.4,1280.9 1776.7,1273.6 1782.5,1283.8 1798.4,1285.2 1801.3,1308.4 1804.2,1370.7 1836.0,1370.7 1838.9,1367.8 1847.6,1369.2 1886.3,1366.3 1890.7,1362.0 1895.0,1369.2 1915.3,1370.7 1926.9,1364.9 1973.2,1364.9 1973.6,1359.1 1975.2,1362.4 1975.2,1351.2 1976.1,1354.7 1976.6,1359.6 1977.0,1356.9 1977.8,1368.1 1977.7,1359.4 1978.3,1367.0 1979.0,1370.7 1980.2,1364.1 1981.3,1368.4 1981.9,1358.9 1983.4,1357.6 1984.2,1353.9 1984.8,1354.7 1985.0,1360.7 1985.7,1365.8 1986.5,1358.7 1986.8,1364.3 1987.9,1373.8 1988.3,1370.7 1988.0,1366.6 1988.2,1371.3 1988.3,1356.8 1988.3,1358.4 1989.5,1362.0 1989.4,1360.7 1989.8,1349.5 1989.1,1354.5 1989.9,1340.2 1989.9,1342.0 1989.7,1338.6 1989.6,1331.7 1989.9,1333.5 1990.9,1327.8 1991.0,1326.2 1990.6,1327.2 1993.5,1328.7 1993.6,1335.4 1994.4,1333.1 1993.7,1336.3 1994.3,1344.7 1994.3,1340.2 1995.4,1338.6 1995.1,1351.2 1995.7,1344.0 1995.1,1347.0 1996.4,1352.1 1996.4,1363.0 1996.4,1360.5 1997.3,1355.1 1999.1,1357.0 1999.4,1355.7 2000.7,1350.4 2001.4,1350.4 2001.9,1359.5 2003.8,1360.8 2004.7,1355.9 2005.1,1364.9 2006.7,1366.5 2009.5,1374.5 2010.9,1370.7 2011.8,1370.0 2013.0,1375.7 2014.6,1374.2 2015.2,1380.8 2017.0,1381.2 2018.5,1379.1 2019.7,1370.8 2020.8,1368.6 2022.5,1367.8 2023.3,1365.0 2023.1,1376.3 2023.6,1370.2 2023.8,1379.1 2024.7,1387.2 2025.3,1383.7 2026.6,1387.3 2026.7,1373.0 2027.3,1375.6 2028.9,1372.3 2029.2,1369.2 2030.5,1369.8 2031.1,1364.9 2036.9,1370.7 2115.1,1370.7 2158.6,1369.2 2229.5,1367.8 2233.3,1350.4 2236.8,1363.4 2239.7,1325.8 2240.2,1328.7 2240.4,1314.5 2240.9,1314.6 2240.8,1313.2 2241.3,1307.8 2240.9,1305.9 2241.1,1313.5 2241.9,1301.9 2241.9,1310.0 2242.3,1295.2 2242.5,1296.8 2245.4,1298.3 2246.0,1297.9 2246.5,1286.3 2246.1,1295.0 2246.7,1293.8 2246.0,1281.0 2246.3,1276.6 2247.6,1280.1 2247.7,1273.9 2247.9,1272.4 2247.4,1274.9 2248.4,1261.3 2248.2,1266.8 2248.3,1262.1 2248.3,1262.6 2248.4,1262.6 2248.8,1271.6 2249.6,1267.9 2249.1,1272.5 2250.1,1272.8 2250.0,1275.7 2250.8,1283.9 2250.2,1279.4 2250.8,1289.2 2251.2,1291.0 2253.6,1281.6 2255.6,1285.2 2256.6,1285.5 2258.4,1276.0 2259.9,1276.5 2260.9,1286.7 2262.0,1283.4 2263.2,1283.9 2265.0,1296.1 2265.7,1291.0 2266.5,1288.8 2268.0,1291.5 2268.1,1305.3 2269.6,1306.6 2270.6,1304.1 2271.1,1307.3 2271.7,1292.9 2271.7,1296.2 2273.0,1299.0 2272.8,1291.5 2273.7,1286.8 2274.4,1283.8 2278.7,1282.3 2279.8,1281.8 2281.7,1294.9 2283.1,1291.0 2283.7,1288.0 2285.5,1292.7 2285.9,1276.4 2287.8,1287.0 2288.3,1276.5 2289.6,1272.0 2291.4,1280.0 2292.6,1286.3 2293.8,1281.5 2294.7,1289.6 2312.1,1296.8 2314.9,1346.0 2319.3,1372.1 2326.5,1375.0 2352.6,1372.1 2355.5,1360.5 2359.8,1354.7 2365.6,1364.9 2370.0,1356.2 2375.8,1359.1 2390.2,1350.4 2398.9,1346.0 2402.4,1356.2 2406.2,1334.5 2409.1,1314.2 2412.0,1314.2"/>
<polyline class="o" points="127.7,1380.8 131.2,1379.8 134.8,1378.8 138.3,1380.7 141.9,1378.0 145.4,1379.8 149.0,1379.4 152.2,1378.9 155.4,1377.7 158.6,1379.9 161.8,1378.0 165.0,1379.9 168.3,1378.4 171.5,1378.7 174.7,1380.3 177.9,1380.8 181.1,1381.9 184.4,1378.5 187.6,1378.6 190.8,1380.1 194.0,1381.2 197.2,1379.2 200.4,1378.1 203.7,1380.3 206.9,1377.9 210.1,1376.1 213.3,1379.8 216.5,1377.5 219.8,1377.0 223.0,1377.0 226.2,1378.0 229.4,1380.4 232.6,1377.8 235.8,1379.4 239.1,1379.6 242.3,1379.6 245.5,1378.3 248.7,1378.9 251.9,1376.6 255.1,1376.5 258.4,1376.9 261.6,1378.9 264.8,1377.9 268.3,1378.1 271.8,1378.0 275.2,1379.7 278.7,1379.6 282.2,1380.2 286.0,1378.4 289.9,1379.6 293.8,1377.3 297.2,1378.6 300.7,1377.0 304.2,1378.9 307.7,1379.1 311.1,1379.4 315.5,1378.8 319.8,1375.0 324.2,1378.6 328.5,1380.2 333.7,1379.4 335.8,1305.5 339.4,1303.8 343.0,1304.1 348.8,1308.4 353.1,1311.2 357.5,1309.8 366.2,1301.2 374.9,1307.0 386.4,1299.7 390.3,1299.5 394.2,1302.2 398.0,1304.1 401.9,1304.2 405.7,1300.6 409.6,1301.2 413.5,1301.1 417.3,1299.1 421.2,1301.2 424.1,1304.1 427.0,1377.9 432.8,1383.7 437.1,1385.2 441.5,1385.1 450.1,1379.4 454.0,1381.0 457.9,1380.6 461.7,1380.8 465.4,1382.8 469.0,1380.7 472.6,1382.7 476.2,1382.2 480.6,1384.1 484.9,1385.1 488.4,1385.6 491.9,1385.2 495.3,1387.1 498.8,1387.7 502.3,1385.8 505.8,1386.7 509.2,1384.2 512.7,1387.2 516.2,1387.1 519.7,1386.6 523.3,1389.8 526.9,1390.2 530.5,1388.9 534.1,1390.9 537.5,1391.2 540.9,1393.1 544.3,1391.0 547.6,1393.7 551.0,1393.1 554.4,1395.3 557.9,1393.7 561.4,1393.6 564.8,1396.9 568.3,1394.2 571.8,1394.9 575.3,1395.7 578.7,1397.9 582.2,1394.6 585.7,1396.4 589.2,1396.7 592.5,1397.1 595.8,1398.7 599.1,1398.6 602.5,1398.9 605.8,1396.5 609.1,1397.2 612.5,1397.1 615.8,1399.6 619.1,1400.0 622.5,1398.2 625.4,1328.7 629.3,1326.8 633.3,1326.5 637.3,1326.4 641.3,1327.2 644.9,1325.3 648.5,1325.7 652.1,1325.4 655.8,1324.3 659.4,1323.6 663.0,1322.9 666.6,1325.1 670.2,1325.8 673.9,1324.5 677.5,1324.6 681.1,1325.6 684.7,1322.9 688.3,1324.1 692.0,1323.7 695.6,1324.5 699.2,1324.3 702.7,1324.0 706.1,1320.2 709.6,1322.8 713.0,1320.0 716.7,1321.5 720.3,1320.6 724.6,1325.8 726.6,1402.5 729.0,1395.3 732.2,1397.0 735.4,1396.7 738.6,1395.0 741.8,1395.1 745.0,1393.9 748.3,1396.3 751.5,1393.8 754.7,1393.9 757.9,1395.9 761.1,1394.7 764.4,1394.7 767.6,1395.6 770.8,1394.5 774.0,1394.5 777.2,1395.3 780.4,1395.2 783.7,1396.5 786.9,1395.2 790.1,1399.1 793.3,1398.1 796.5,1396.2 799.8,1396.9 803.0,1397.4 806.2,1397.7 809.4,1396.8 812.6,1400.1 815.8,1398.8 819.1,1401.1 822.3,1398.9 825.5,1399.1 828.7,1397.4 831.9,1397.7 835.1,1398.8 838.4,1398.6 841.6,1401.2 844.8,1398.4 848.0,1397.9 851.2,1402.2 854.5,1400.4 857.7,1398.9 860.9,1400.7 864.1,1398.6 867.3,1400.9 870.5,1403.1 873.8,1401.1 877.0,1402.7 880.2,1402.0 883.4,1400.1 886.6,1400.6 889.9,1399.8 893.1,1402.5 896.3,1401.4 899.5,1402.6 902.7,1400.6 905.9,1400.2 909.2,1402.8 912.4,1403.6 915.6,1403.0 918.8,1402.9 922.0,1403.0 925.2,1402.6 928.5,1400.4 931.7,1401.7 935.1,1401.6 938.4,1400.8 941.8,1399.3 945.2,1399.2 948.6,1400.2 952.0,1401.1 955.3,1399.2 958.6,1400.3 961.9,1400.6 965.2,1397.5 968.5,1398.9 971.8,1398.3 975.1,1395.3 978.7,1396.8 982.2,1393.7 985.7,1392.6 989.3,1392.1 992.8,1391.5 996.4,1391.1 999.9,1392.4 1003.4,1393.2 1007.0,1390.9 1010.2,1391.7 1013.5,1389.4 1016.8,1389.4 1020.0,1389.4 1023.3,1385.5 1026.5,1387.3 1029.8,1387.7 1033.0,1385.1 1036.5,1385.9 1039.9,1385.4 1043.3,1383.7 1046.7,1381.9 1050.2,1384.2 1053.6,1381.7 1057.0,1383.3 1060.4,1383.6 1063.8,1380.7 1067.3,1380.2 1070.7,1380.2 1074.2,1382.0 1077.6,1380.7 1081.1,1378.1 1084.6,1377.7 1088.1,1377.5 1091.5,1380.6 1095.0,1379.9 1098.5,1376.8 1102.0,1379.6 1105.4,1377.9 1108.7,1379.9 1111.9,1378.3 1115.1,1376.8 1118.3,1377.5 1121.5,1375.5 1124.8,1374.8 1128.0,1378.9 1131.2,1377.3 1134.4,1376.5 1137.8,1376.6 1141.3,1378.4 1144.7,1376.2 1148.1,1378.1 1151.5,1377.9 1154.9,1375.2 1158.4,1375.4 1161.8,1375.5 1165.2,1375.3 1168.6,1376.8 1172.1,1376.5 1177.8,1363.4 1183.1,1298.3 1192.3,1304.1 1195.8,1303.2 1199.3,1304.0 1202.8,1303.0 1206.2,1306.6 1209.7,1304.9 1213.0,1303.8 1216.2,1303.8 1219.5,1303.9 1222.7,1304.8 1226.0,1302.2 1229.2,1303.9 1232.5,1301.6 1235.8,1301.2 1239.2,1301.3 1242.7,1301.3 1246.2,1299.0 1249.7,1300.9 1253.1,1301.2 1256.0,1372.1 1259.9,1370.2 1263.8,1369.0 1267.6,1370.7 1271.1,1372.0 1274.5,1369.2 1278.0,1370.5 1281.4,1371.7 1284.8,1370.9 1288.3,1369.9 1291.7,1370.7 1295.2,1370.9 1298.6,1371.9 1302.1,1368.9 1305.5,1370.9 1309.0,1370.7 1312.2,1370.0 1315.4,1370.6 1318.6,1373.3 1321.8,1372.6 1325.0,1373.4 1328.3,1374.7 1331.5,1375.9 1334.7,1374.3 1337.9,1375.0 1341.1,1375.8 1344.4,1375.7 1347.6,1376.0 1350.8,1377.1 1354.0,1376.4 1357.2,1377.1 1360.4,1377.2 1363.7,1379.5 1366.9,1377.9 1370.1,1378.9 1373.3,1379.9 1376.5,1380.3 1379.8,1377.5 1383.0,1379.0 1386.2,1380.8 1389.4,1380.5 1392.6,1377.6 1395.8,1379.4 1399.2,1377.8 1402.5,1379.3 1405.9,1377.8 1409.2,1378.7 1412.5,1378.0 1415.9,1380.8 1419.2,1381.4 1422.6,1382.0 1425.9,1378.8 1429.3,1381.4 1432.6,1381.3 1435.9,1379.1 1439.3,1380.8 1442.6,1382.4 1446.0,1382.8 1449.3,1379.4 1452.6,1382.6 1456.0,1380.1 1459.3,1380.5 1462.7,1382.6 1466.0,1381.9 1469.4,1378.9 1472.7,1380.1 1476.0,1380.4 1479.4,1379.6 1482.7,1380.2 1486.3,1379.4 1490.0,1380.4 1493.6,1382.7 1497.2,1382.2 1500.8,1379.4 1504.4,1381.0 1508.1,1379.8 1511.7,1379.4 1514.9,1377.1 1518.1,1378.3 1521.3,1379.4 1524.6,1378.8 1527.8,1376.6 1531.0,1380.5 1534.2,1379.5 1537.4,1380.1 1540.6,1377.9 1543.9,1376.0 1547.1,1376.6 1550.3,1375.4 1553.5,1378.5 1556.7,1376.1 1559.9,1375.3 1563.2,1376.4 1566.4,1378.4 1569.6,1376.5 1572.8,1377.6 1576.0,1374.9 1579.3,1374.2 1582.5,1377.4 1585.7,1375.6 1588.9,1376.0 1592.1,1373.1 1595.3,1372.7 1598.6,1374.4 1601.8,1374.9 1605.0,1373.5 1608.2,1371.6 1611.4,1375.1 1614.7,1373.4 1617.9,1373.8 1621.1,1370.3 1624.3,1373.4 1627.5,1371.5 1630.7,1369.5 1634.0,1372.9 1637.2,1371.0 1640.4,1370.4 1643.6,1371.3 1646.8,1372.8 1650.0,1369.8 1653.3,1369.1 1656.5,1370.7 1659.4,1322.9 1663.7,1298.3 1667.3,1298.5 1671.0,1297.4 1674.6,1297.0 1678.2,1297.4 1681.8,1297.0 1685.4,1299.1 1688.7,1297.6 1691.9,1297.8 1695.1,1297.5 1698.3,1299.2 1701.5,1296.9 1704.8,1297.6 1708.0,1295.9 1711.2,1296.4 1714.4,1296.8 1717.6,1294.4 1720.8,1295.1 1724.1,1293.7 1727.3,1296.6 1730.5,1295.4 1733.7,1293.5 1736.9,1294.5 1740.1,1296.2 1743.4,1293.9 1746.6,1291.9 1749.8,1294.7 1753.0,1292.7 1756.2,1292.6 1759.5,1293.8 1762.7,1291.5 1765.9,1291.7 1769.1,1292.2 1772.3,1291.0 1775.8,1292.6 1779.3,1289.2 1782.8,1290.7 1786.2,1289.6 1789.7,1288.1 1793.1,1289.2 1796.5,1288.7 1799.8,1289.6 1802.7,1372.1 1806.2,1371.6 1809.6,1370.5 1813.1,1371.0 1816.5,1370.9 1819.9,1374.1 1823.4,1372.1 1826.8,1371.9 1830.2,1373.6 1833.5,1371.8 1836.7,1375.2 1839.9,1375.4 1843.2,1374.6 1846.4,1373.0 1849.6,1372.9 1852.8,1373.2 1856.1,1374.0 1859.3,1372.7 1862.5,1374.0 1865.7,1373.3 1869.0,1374.4 1872.2,1376.7 1875.4,1377.0 1878.6,1375.3 1881.8,1374.2 1885.0,1377.6 1888.3,1374.9 1891.5,1375.4 1894.7,1374.0 1897.9,1376.5 1901.2,1376.6 1904.5,1377.6 1907.8,1378.3 1911.2,1377.6 1914.5,1379.6 1917.8,1378.0 1921.1,1380.8 1925.0,1381.5 1928.8,1382.5 1932.7,1386.0 1936.1,1385.5 1939.5,1383.8 1942.9,1383.7 1946.4,1384.8 1949.8,1384.4 1953.2,1385.9 1956.6,1385.6 1960.1,1386.5 1963.5,1386.0 1966.9,1386.2 1970.3,1385.1 1973.7,1387.0 1977.0,1385.0 1980.3,1384.8 1983.7,1387.9 1987.0,1384.4 1990.4,1387.1 1993.7,1386.9 1997.1,1384.4 2000.4,1388.0 2003.7,1388.4 2007.1,1387.4 2010.4,1388.0 2013.8,1387.2 2017.0,1388.6 2020.2,1385.7 2023.4,1387.4 2026.6,1387.4 2029.9,1388.9 2033.1,1388.8 2036.3,1388.9 2039.5,1387.9 2042.7,1389.3 2045.9,1388.5 2049.2,1388.6 2052.4,1386.6 2055.6,1385.7 2058.8,1386.2 2062.0,1387.3 2065.2,1386.2 2068.5,1389.5 2071.7,1388.0 2074.9,1388.4 2078.1,1388.8 2081.3,1388.8 2084.6,1389.2 2087.8,1388.4 2091.0,1386.3 2094.2,1389.9 2097.4,1389.8 2100.6,1388.8 2103.9,1389.0 2107.1,1389.6 2110.3,1387.1 2113.5,1390.1 2116.7,1388.1 2119.9,1387.4 2123.2,1388.3 2126.4,1390.4 2129.6,1389.5 2133.9,1386.7 2138.3,1386.6 2141.6,1387.8 2144.9,1389.0 2148.1,1387.0 2151.4,1386.7 2154.7,1387.3 2158.0,1388.3 2161.3,1388.8 2164.5,1388.3 2167.8,1388.6 2171.1,1386.3 2174.4,1386.7 2177.7,1387.4 2181.0,1389.7 2184.2,1387.9 2187.5,1388.9 2190.8,1388.7 2194.0,1385.8 2197.3,1385.6 2200.6,1386.0 2203.8,1387.3 2207.1,1386.9 2210.3,1386.4 2213.6,1385.1 2216.9,1384.6 2220.2,1386.0 2223.5,1386.2 2226.8,1386.7 2230.1,1385.5 2233.4,1389.4 2236.8,1388.0 2239.7,1375.0 2242.5,1322.9 2245.4,1308.4 2248.3,1307.0 2252.7,1320.0 2255.9,1318.7 2259.2,1322.1 2262.5,1321.9 2265.7,1320.0 2274.4,1313.6 2277.9,1311.5 2281.4,1313.4 2284.8,1315.0 2288.3,1315.7 2291.8,1313.6 2295.2,1313.0 2298.5,1311.8 2301.9,1311.2 2305.3,1314.0 2308.7,1310.4 2312.1,1311.3 2314.9,1386.6 2318.4,1387.0 2321.9,1385.0 2325.4,1386.7 2328.9,1388.6 2332.3,1386.6 2338.1,1380.8 2342.5,1388.0 2345.7,1386.4 2349.0,1389.5 2352.2,1388.1 2355.5,1389.7 2358.8,1388.9 2362.0,1386.9 2365.3,1389.8 2368.5,1388.0 2371.8,1386.0 2375.0,1385.9 2378.3,1388.0 2381.6,1387.8 2384.8,1387.2 2388.1,1386.5 2391.3,1387.4 2394.6,1387.2 2397.8,1389.5 2401.1,1385.8 2404.4,1389.1 2407.6,1388.0 2409.9,1360.5 2412.0,1360.5"/>
<polyline class="b" points="127.7,1502.0 135.9,1496.2 147.5,1510.1 154.8,1504.3 163.4,1506.3 170.7,1501.4 274.9,1502.6 277.8,1533.8 282.2,1545.4 299.6,1549.8 311.1,1555.6 322.7,1562.8 332.9,1558.5 337.2,1587.4 348.8,1588.9 356.0,1574.4 361.8,1545.4 367.6,1542.5 374.9,1561.4 383.5,1559.9 398.0,1545.4 406.7,1544.0 421.2,1529.5 424.1,1489.0 427.6,1487.5 432.8,1503.4 438.6,1497.6 445.8,1499.1 455.9,1512.1 470.4,1513.6 479.1,1507.8 511.0,1507.8 512.4,1517.9 516.8,1506.3 553.0,1509.2 553.8,1528.0 553.7,1529.7 553.7,1523.5 553.8,1515.0 555.0,1511.2 554.8,1510.6 554.7,1507.6 554.5,1507.8 554.6,1497.9 554.6,1494.8 555.2,1498.4 555.4,1486.3 555.4,1492.6 555.3,1485.1 555.8,1482.1 555.9,1479.0 556.3,1475.2 556.4,1470.1 557.2,1474.6 556.6,1472.5 557.8,1480.7 557.2,1489.3 558.0,1490.5 558.6,1489.2 558.3,1499.2 558.3,1501.6 558.6,1504.3 559.6,1510.7 560.0,1509.4 559.5,1509.1 560.2,1516.5 560.7,1513.2 560.6,1514.1 561.7,1508.5 561.8,1500.1 562.0,1497.8 563.1,1496.2 563.3,1498.8 564.0,1506.8 565.1,1503.0 565.1,1506.4 565.9,1518.8 565.9,1520.0 566.5,1515.2 567.6,1522.3 567.4,1526.8 568.3,1530.9 568.4,1526.3 569.1,1522.8 569.7,1517.8 569.6,1511.9 570.0,1513.1 570.7,1512.6 571.4,1507.9 571.8,1502.0 572.6,1500.6 571.7,1504.9 572.4,1513.1 573.1,1514.0 573.7,1513.6 573.8,1519.3 574.1,1520.8 574.4,1532.2 574.7,1533.7 574.0,1541.4 574.7,1539.6 574.9,1531.6 575.4,1532.8 575.6,1525.6 575.5,1526.9 576.2,1518.5 576.4,1521.7 577.1,1515.5 577.0,1510.8 577.1,1505.6 577.7,1501.3 578.3,1504.4 578.5,1493.5 578.5,1494.6 578.5,1497.1 579.6,1488.6 579.8,1481.8 579.9,1481.7 581.2,1485.9 583.5,1491.1 584.8,1493.3 584.8,1497.9 586.5,1502.7 587.1,1508.7 586.9,1504.6 587.9,1515.4 588.3,1518.4 589.5,1517.1 589.8,1525.4 590.6,1521.5 591.3,1523.7 591.3,1535.5 592.1,1533.8 594.6,1535.4 596.4,1541.1 596.4,1538.8 597.4,1536.2 597.8,1533.2 597.9,1528.3 597.7,1522.9 598.1,1520.5 598.8,1514.2 598.2,1515.8 598.7,1508.9 598.8,1510.0 599.3,1500.6 600.2,1499.4 599.9,1500.2 600.3,1490.9 600.7,1489.0 602.2,1495.9 602.8,1493.7 603.7,1501.3 604.6,1502.6 605.1,1507.8 605.7,1507.5 605.5,1502.5 606.3,1502.8 606.7,1497.0 606.1,1491.6 607.0,1482.4 607.1,1487.5 607.9,1484.7 607.2,1477.7 608.4,1474.7 608.1,1464.5 609.1,1470.0 609.0,1461.1 609.5,1462.6 609.4,1455.6 609.9,1460.1 609.6,1460.2 609.8,1463.9 610.2,1465.0 610.6,1471.0 610.2,1473.4 610.6,1478.7 611.3,1478.4 610.8,1484.0 610.9,1492.4 611.0,1488.1 611.8,1499.0 612.3,1500.5 611.9,1507.4 612.5,1506.4 612.5,1514.8 613.2,1518.2 612.4,1514.9 612.9,1516.6 613.5,1518.8 613.9,1528.0 613.7,1529.5 613.8,1533.8 616.5,1539.0 618.1,1542.5 618.8,1543.7 618.8,1540.9 618.8,1530.6 619.5,1528.9 619.0,1527.1 619.5,1517.6 620.1,1518.2 620.5,1515.1 620.7,1508.9 620.1,1508.1 621.0,1507.9 621.1,1496.7 621.0,1492.2 621.2,1498.8 621.6,1490.4 621.7,1496.1 622.4,1493.5 622.8,1496.3 622.5,1505.3 622.8,1513.1 623.5,1512.9 624.5,1510.7 624.8,1513.5 624.7,1523.8 625.5,1524.0 625.8,1530.7 625.5,1529.0 625.6,1534.6 626.2,1539.6 626.6,1534.5 627.8,1530.8 628.1,1523.4 628.1,1527.0 629.6,1519.0 629.1,1514.4 630.3,1513.6 630.3,1515.5 630.7,1518.2 631.0,1527.0 631.3,1529.9 631.2,1528.1 631.7,1531.8 631.9,1536.9 631.8,1540.9 632.0,1542.6 632.1,1550.4 632.0,1552.3 632.3,1554.3 632.4,1558.6 632.9,1557.9 632.4,1568.5 632.5,1571.6 633.5,1568.6 633.5,1572.5 634.0,1575.3 633.2,1576.9 634.1,1582.3 634.0,1588.9 634.7,1590.5 636.1,1584.2 636.9,1579.6 637.1,1577.8 638.4,1574.7 639.4,1571.7 639.8,1568.8 641.3,1559.9 641.9,1563.6 643.4,1572.5 644.8,1576.1 645.6,1574.4 646.4,1570.0 645.8,1563.4 646.8,1568.7 647.0,1558.5 647.2,1558.4 647.1,1555.2 647.3,1544.4 647.4,1545.9 648.5,1539.4 648.4,1541.0 648.5,1535.6 649.2,1530.8 649.0,1530.4 649.9,1521.3 650.3,1522.9 650.7,1520.7 650.5,1516.4 650.6,1512.2 650.6,1505.3 651.4,1503.4 651.7,1511.2 652.2,1514.9 652.7,1519.1 652.6,1518.7 652.7,1517.8 653.4,1525.6 652.9,1525.0 653.2,1533.8 653.9,1531.5 654.3,1539.0 654.0,1541.2 655.2,1541.3 654.5,1549.8 655.5,1556.9 655.3,1558.7 655.2,1558.0 656.3,1564.6 656.1,1567.3 656.4,1570.2 657.1,1578.4 656.6,1579.5 657.2,1580.2 658.3,1577.9 658.3,1571.9 658.8,1570.7 659.5,1562.2 660.5,1560.5 660.5,1556.2 661.2,1551.4 661.6,1552.7 661.8,1555.1 662.3,1559.9 662.6,1563.7 663.8,1568.9 664.5,1576.1 664.4,1574.5 665.3,1582.7 665.5,1584.1 665.9,1586.0 666.4,1582.7 666.4,1578.1 666.6,1575.5 667.3,1568.6 666.7,1573.6 667.4,1567.7 668.2,1564.7 668.0,1563.7 668.4,1554.7 668.1,1548.2 669.1,1552.9 668.8,1545.4 669.4,1542.9 669.2,1542.8 669.8,1537.2 670.2,1530.8 670.2,1528.0 670.6,1521.2 670.6,1522.9 670.9,1515.5 670.5,1510.0 670.6,1507.5 671.2,1508.3 671.6,1503.5 671.8,1495.6 671.5,1493.1 671.8,1494.7 672.1,1489.9 671.9,1485.2 671.8,1480.3 672.4,1481.0 672.1,1480.6 672.2,1469.3 672.8,1468.2 673.1,1468.7 673.3,1466.3 673.3,1461.7 673.4,1452.3 673.1,1449.5 673.7,1447.1 674.0,1448.0 674.6,1438.9 674.8,1433.8 674.9,1441.2 674.6,1432.5 674.5,1439.2 674.8,1440.1 675.4,1447.7 674.8,1443.2 675.7,1450.7 675.8,1450.1 675.8,1452.8 675.1,1457.7 676.2,1462.2 675.7,1464.6 675.4,1469.7 676.0,1472.0 676.4,1475.2 676.8,1485.2 676.4,1479.8 676.5,1488.9 676.8,1490.2 677.0,1499.9 677.1,1492.9 677.1,1502.7 677.1,1509.6 676.6,1502.9 677.6,1507.3 677.0,1518.6 677.4,1522.8 678.0,1523.8 677.6,1520.9 678.4,1533.0 678.5,1532.5 677.8,1537.2 678.1,1535.9 677.9,1541.7 678.0,1543.6 679.2,1554.3 679.2,1553.2 679.1,1552.8 678.9,1559.9 679.6,1561.7 680.3,1558.4 680.7,1547.5 680.5,1543.7 682.0,1543.1 682.2,1542.7 682.4,1532.0 683.6,1533.6 683.1,1531.3 684.5,1528.6 684.7,1522.3 685.3,1523.5 687.1,1531.6 687.6,1538.6 688.6,1541.5 689.5,1540.4 691.5,1546.7 692.0,1548.3 693.0,1549.2 693.6,1542.1 694.5,1538.5 695.4,1537.7 695.0,1529.1 696.3,1528.0 697.6,1527.1 697.4,1535.6 699.0,1543.3 700.2,1542.7 700.7,1544.9 701.7,1550.0 702.1,1551.2 702.5,1548.9 703.2,1542.0 704.4,1544.7 705.1,1535.0 706.3,1529.4 707.0,1526.6 707.9,1525.2 711.6,1523.7 712.5,1530.7 712.9,1535.2 713.4,1537.6 713.6,1537.4 714.5,1546.6 715.3,1544.7 715.9,1549.8 716.5,1551.2 717.2,1546.1 717.4,1542.6 717.7,1534.5 717.8,1529.6 718.2,1528.7 718.8,1525.2 723.2,1533.8 726.1,1490.4 729.0,1471.6 734.8,1489.0 742.0,1486.1 747.8,1496.2 753.6,1494.7 757.9,1506.3 768.1,1504.9 778.2,1510.7 810.0,1511.3 818.7,1503.4 859.3,1504.3 885.3,1507.2 915.8,1507.8 917.2,1506.5 917.6,1509.8 918.7,1516.5 918.9,1506.7 919.2,1516.6 919.8,1505.8 919.1,1509.0 920.1,1497.6 919.5,1502.5 920.1,1497.3 920.5,1500.3 920.2,1487.6 920.3,1491.6 920.6,1491.5 921.5,1483.2 921.5,1480.3 921.5,1488.9 921.6,1487.1 922.7,1491.1 922.0,1485.2 922.5,1497.8 922.6,1504.2 923.7,1500.8 923.9,1504.6 923.3,1503.7 923.4,1507.0 924.8,1509.3 924.4,1513.6 925.1,1514.2 925.5,1516.7 926.2,1520.8 925.8,1524.0 926.0,1525.3 927.2,1529.4 927.3,1533.8 927.7,1526.7 928.6,1534.2 928.5,1517.2 928.9,1528.2 929.6,1515.0 929.3,1522.6 930.2,1513.6 929.9,1518.3 930.8,1514.3 930.8,1528.1 931.7,1518.4 930.7,1524.2 930.9,1537.8 931.7,1533.8 931.5,1528.9 932.8,1527.7 932.4,1518.5 932.8,1519.7 933.9,1518.9 933.9,1513.4 934.1,1521.3 934.1,1514.9 934.7,1507.6 935.6,1503.7 935.7,1503.1 936.0,1500.5 938.9,1495.9 941.8,1504.9 943.1,1500.1 944.6,1495.7 946.2,1496.2 950.5,1494.7 951.5,1501.1 952.2,1493.0 953.8,1503.6 954.9,1504.9 955.6,1500.1 955.0,1512.0 955.6,1512.9 956.1,1509.1 956.7,1515.5 957.0,1527.1 957.3,1529.4 957.7,1526.6 957.9,1518.9 958.4,1518.1 959.1,1512.6 959.5,1511.5 959.4,1508.8 959.5,1504.9 960.9,1501.6 961.2,1504.7 961.5,1497.6 961.5,1503.0 961.5,1499.2 962.1,1494.7 966.4,1496.2 967.3,1497.5 966.7,1503.2 968.0,1503.4 968.4,1504.4 968.4,1508.3 968.3,1505.1 969.4,1520.8 969.2,1523.7 969.8,1518.6 969.8,1514.6 970.8,1525.2 975.1,1529.5 979.5,1504.9 989.6,1504.3 1047.5,1509.2 1082.3,1510.1 1085.2,1504.3 1104.0,1502.0 1106.9,1470.1 1111.2,1475.9 1114.1,1500.5 1118.5,1486.1 1125.7,1473.0 1134.4,1477.4 1143.1,1471.6 1151.8,1478.8 1157.0,1493.3 1160.5,1480.3 1172.1,1487.5 1174.9,1502.0 1177.8,1475.9 1178.2,1485.9 1178.4,1474.0 1178.7,1476.6 1178.7,1491.1 1178.8,1485.5 1178.9,1487.5 1178.8,1498.5 1179.5,1490.8 1179.6,1490.6 1180.0,1503.6 1180.4,1503.5 1181.0,1500.5 1180.3,1511.0 1180.8,1508.6 1181.4,1515.3 1181.4,1521.3 1181.4,1520.5 1182.3,1516.3 1181.9,1527.6 1182.2,1528.0 1182.7,1522.8 1182.1,1528.9 1182.9,1530.4 1182.4,1537.0 1182.7,1544.8 1183.8,1548.7 1183.6,1544.7 1183.1,1547.9 1183.9,1547.9 1183.9,1562.9 1184.2,1557.0 1184.3,1549.8 1184.5,1560.0 1184.2,1548.3 1185.6,1546.8 1184.9,1540.4 1185.6,1533.9 1186.1,1542.0 1186.2,1529.1 1185.3,1529.5 1186.1,1530.8 1186.4,1518.6 1187.0,1518.2 1186.3,1515.0 1186.7,1513.0 1187.3,1514.0 1186.8,1511.6 1187.8,1512.4 1187.1,1510.5 1187.8,1506.5 1188.0,1503.4 1188.6,1499.2 1188.8,1513.8 1189.4,1509.0 1188.9,1517.8 1190.1,1525.4 1190.0,1515.5 1190.7,1514.9 1190.6,1531.0 1190.8,1531.4 1191.0,1533.2 1191.1,1535.4 1191.3,1528.2 1191.6,1533.6 1192.3,1539.6 1192.9,1546.1 1195.1,1551.3 1195.3,1547.3 1196.5,1551.5 1198.1,1552.7 1198.3,1564.0 1199.5,1551.7 1200.2,1557.0 1201.0,1561.6 1202.3,1562.4 1202.5,1568.6 1202.3,1567.0 1203.2,1560.6 1204.1,1567.3 1203.8,1551.2 1204.7,1561.3 1205.1,1550.9 1204.7,1550.7 1205.4,1552.1 1205.3,1553.9 1206.1,1538.3 1206.6,1531.4 1207.2,1537.8 1206.8,1525.8 1207.6,1537.6 1207.6,1538.0 1208.3,1526.6 1208.8,1529.5 1209.6,1529.0 1209.7,1532.1 1209.6,1537.5 1210.7,1531.9 1210.4,1533.7 1210.9,1536.5 1211.7,1550.9 1212.3,1554.6 1211.9,1554.9 1212.1,1554.0 1212.4,1566.9 1213.5,1555.8 1213.7,1561.0 1214.0,1565.7 1215.3,1566.5 1215.9,1562.9 1216.0,1559.3 1217.7,1552.9 1217.5,1549.2 1218.3,1551.6 1219.6,1540.2 1220.9,1540.3 1221.3,1542.5 1222.1,1538.3 1223.1,1549.0 1224.2,1540.8 1224.5,1546.0 1225.6,1561.1 1227.1,1562.3 1227.7,1551.1 1228.5,1562.8 1228.6,1560.1 1229.5,1554.7 1229.6,1550.6 1230.0,1549.9 1230.2,1556.4 1230.8,1548.6 1231.5,1547.2 1231.4,1539.6 1233.5,1543.0 1236.4,1537.2 1238.7,1535.3 1250.2,1536.7 1253.7,1502.0 1257.5,1480.3 1263.3,1496.2 1274.9,1495.6 1287.9,1513.6 1295.9,1510.7 1303.2,1519.4 1309.0,1513.0 1342.3,1515.0 1344.3,1520.8 1348.1,1506.3 1355.3,1510.7 1427.7,1510.7 1430.0,1532.4 1430.5,1535.1 1430.2,1523.7 1430.6,1518.0 1431.1,1517.0 1430.8,1523.6 1431.6,1512.6 1430.9,1516.6 1431.7,1509.6 1431.4,1516.0 1431.5,1511.6 1431.8,1499.2 1432.2,1494.7 1432.8,1492.9 1432.4,1492.7 1433.3,1485.2 1433.4,1486.4 1433.5,1494.8 1433.5,1484.6 1435.8,1486.1 1435.5,1481.2 1435.7,1494.8 1435.7,1491.4 1436.7,1502.7 1436.8,1495.0 1436.6,1499.3 1436.7,1510.2 1436.7,1507.7 1436.8,1513.4 1436.3,1516.5 1436.3,1521.5 1436.7,1512.0 1436.4,1522.9 1436.5,1522.4 1436.6,1529.7 1437.7,1521.8 1437.4,1534.4 1437.5,1542.3 1437.3,1543.8 1437.6,1535.8 1437.4,1536.5 1438.1,1541.2 1437.8,1548.3 1438.3,1549.9 1438.3,1545.2 1439.2,1538.9 1439.8,1536.1 1439.4,1528.0 1439.8,1535.3 1440.6,1523.2 1441.5,1518.4 1441.5,1523.1 1442.2,1522.3 1442.2,1517.9 1443.1,1516.1 1443.2,1527.7 1443.5,1529.6 1444.0,1526.0 1444.3,1534.1 1445.1,1533.8 1446.0,1523.7 1445.4,1521.4 1445.6,1525.6 1446.4,1525.9 1446.2,1525.6 1446.6,1521.8 1447.2,1514.7 1448.0,1518.3 1448.0,1501.9 1448.0,1509.6 1448.5,1503.4 1450.0,1512.3 1450.7,1502.3 1451.4,1510.1 1452.3,1511.4 1453.8,1516.5 1454.2,1517.2 1455.0,1511.9 1455.4,1511.3 1456.3,1498.2 1457.4,1495.7 1457.2,1492.5 1458.1,1496.2 1460.9,1503.4 1462.9,1503.3 1465.3,1500.5 1466.3,1509.0 1467.0,1508.4 1467.2,1501.3 1467.3,1519.4 1468.3,1521.3 1468.5,1522.1 1469.8,1523.5 1469.8,1530.5 1470.4,1533.2 1471.1,1528.0 1472.1,1518.9 1471.5,1521.5 1472.2,1518.7 1472.5,1521.8 1472.9,1516.8 1473.6,1510.1 1474.4,1502.4 1475.0,1507.0 1475.4,1510.1 1476.1,1494.6 1475.8,1497.4 1476.5,1494.1 1476.9,1494.7 1478.3,1497.2 1480.1,1492.9 1481.3,1502.0 1481.5,1500.4 1482.0,1505.0 1482.2,1516.9 1482.3,1505.2 1483.6,1510.7 1484.2,1520.1 1484.5,1527.9 1484.9,1530.7 1484.6,1521.1 1484.8,1520.5 1486.1,1534.5 1486.2,1533.8 1491.4,1510.7 1563.8,1513.0 1598.6,1511.3 1647.8,1512.1 1649.2,1545.4 1652.1,1554.1 1656.5,1557.0 1660.8,1584.5 1666.6,1588.9 1672.4,1583.1 1681.1,1588.9 1688.3,1586.0 1697.0,1596.1 1705.7,1599.0 1713.0,1583.1 1730.3,1583.1 1736.1,1551.2 1741.9,1538.2 1746.3,1548.3 1752.1,1546.9 1757.8,1554.1 1763.6,1549.8 1769.4,1552.7 1778.1,1539.6 1785.4,1541.1 1796.9,1530.9 1799.8,1493.3 1802.7,1484.6 1805.6,1490.4 1810.0,1503.4 1817.2,1500.5 1830.2,1513.6 1841.8,1509.2 1847.6,1513.6 1886.3,1511.3 1888.7,1519.4 1893.6,1506.3 1900.8,1508.4 1912.4,1506.3 1935.6,1507.2 1941.4,1510.1 1973.2,1510.1 1973.2,1507.2 1973.1,1515.9 1974.3,1510.5 1974.0,1524.4 1973.8,1518.5 1974.8,1531.3 1974.3,1536.9 1974.7,1532.4 1974.8,1535.1 1975.2,1526.3 1975.0,1517.7 1975.2,1525.1 1975.3,1515.7 1975.4,1509.3 1976.2,1515.6 1976.1,1516.0 1976.2,1506.4 1976.7,1500.7 1976.7,1509.9 1976.1,1495.4 1976.6,1500.5 1976.9,1492.5 1977.6,1490.1 1976.9,1481.1 1978.0,1493.8 1977.6,1483.2 1980.5,1484.6 1981.2,1488.7 1980.8,1497.0 1980.9,1490.1 1981.2,1491.0 1981.2,1492.7 1981.0,1498.4 1981.7,1508.0 1981.0,1505.6 1982.1,1501.7 1981.5,1513.1 1981.7,1519.9 1981.6,1518.9 1982.4,1515.0 1982.7,1518.0 1982.0,1524.0 1982.1,1527.8 1982.5,1529.0 1983.5,1534.7 1983.2,1539.0 1983.1,1538.2 1983.4,1539.6 1985.3,1545.1 1985.7,1537.3 1988.0,1538.7 1989.1,1530.9 1989.5,1521.9 1989.8,1521.4 1990.2,1516.2 1990.1,1526.5 1990.9,1521.1 1991.5,1511.9 1991.8,1517.1 1992.0,1507.8 1994.5,1508.5 1997.8,1503.4 1999.8,1508.7 2000.8,1491.4 2002.2,1496.2 2003.9,1498.3 2005.6,1496.9 2006.5,1503.4 2010.9,1502.0 2010.9,1498.1 2012.0,1509.5 2012.4,1515.7 2013.5,1506.7 2013.5,1514.1 2013.5,1512.7 2014.6,1519.1 2014.8,1515.9 2015.8,1531.7 2016.1,1528.0 2016.0,1531.2 2016.7,1529.4 2017.7,1527.2 2017.0,1520.9 2017.4,1506.9 2018.4,1507.9 2019.2,1508.9 2018.8,1506.1 2019.4,1495.4 2020.2,1502.0 2020.1,1497.6 2023.0,1505.2 2025.3,1502.0 2026.2,1496.9 2026.6,1509.3 2027.1,1511.2 2027.9,1505.8 2027.8,1519.8 2028.4,1524.6 2029.5,1521.4 2029.8,1516.0 2029.8,1526.2 2030.0,1530.7 2031.1,1530.9 2036.9,1511.3 2071.7,1512.1 2158.6,1512.1 2229.5,1512.1 2231.0,1536.7 2234.4,1494.7 2237.3,1496.2 2239.7,1584.5 2245.4,1596.1 2245.8,1587.7 2246.3,1589.9 2245.9,1583.6 2246.4,1585.8 2247.1,1581.3 2247.9,1572.7 2248.2,1576.5 2247.7,1571.0 2248.1,1579.9 2248.9,1566.0 2248.9,1573.2 2249.2,1569.6 2249.8,1561.4 2252.0,1551.2 2254.0,1563.1 2257.0,1554.1 2258.3,1562.7 2258.5,1552.2 2259.2,1558.8 2259.9,1565.7 2260.5,1569.0 2260.8,1563.8 2261.4,1550.7 2262.0,1553.4 2262.7,1556.7 2263.7,1550.1 2264.1,1548.9 2264.5,1539.0 2265.7,1542.5 2265.9,1542.0 2267.3,1544.3 2267.1,1550.0 2267.4,1550.7 2268.7,1556.8 2269.6,1557.5 2269.8,1554.9 2270.4,1569.6 2271.1,1558.9 2271.5,1568.6 2272.4,1570.0 2273.0,1569.8 2274.9,1562.6 2276.0,1557.7 2276.9,1554.9 2278.0,1547.5 2278.7,1549.8 2280.0,1549.1 2281.7,1561.0 2283.1,1558.0 2285.0,1554.6 2286.0,1562.8 2286.7,1562.8 2288.4,1558.3 2288.8,1560.3 2290.1,1545.3 2290.7,1555.5 2292.0,1541.8 2293.2,1545.4 2295.1,1548.5 2297.1,1540.7 2300.1,1539.6 2301.8,1533.5 2303.7,1534.4 2306.3,1536.7 2310.6,1510.7 2313.5,1484.6 2317.3,1480.3 2320.7,1494.7 2332.3,1496.2 2343.9,1510.7 2352.6,1509.2 2354.0,1539.6 2358.4,1551.2 2370.0,1555.6 2384.5,1557.0 2401.8,1561.4 2404.7,1568.6 2407.6,1551.2 2409.9,1583.1 2412.0,1583.1"/>
<polyline class="o" points="127.7,1517.3 149.0,1521.7 206.9,1525.2 264.8,1527.5 332.9,1529.5 335.8,1554.1 338.7,1580.2 348.8,1588.9 366.2,1586.0 421.2,1572.9 424.1,1533.8 427.0,1509.2 431.3,1510.1 438.6,1515.0 453.0,1518.8 496.5,1520.8 623.9,1522.3 626.8,1562.8 631.1,1582.5 641.3,1580.2 723.2,1565.7 725.5,1533.8 727.5,1503.4 737.6,1509.2 757.9,1515.0 815.8,1518.8 931.7,1524.6 1047.5,1529.5 1177.8,1533.8 1180.7,1562.8 1185.1,1590.3 1192.3,1592.6 1253.1,1578.7 1255.5,1533.8 1257.5,1515.0 1267.6,1520.8 1337.9,1527.5 1453.8,1530.9 1569.6,1533.8 1656.5,1536.2 1660.0,1562.8 1665.2,1593.2 1671.0,1595.2 1798.4,1570.0 1800.4,1533.8 1802.7,1506.3 1812.9,1513.6 1830.2,1518.8 1869.0,1521.7 1955.8,1523.7 2129.6,1525.2 2238.2,1526.6 2241.1,1562.8 2245.4,1584.5 2249.8,1586.5 2312.1,1572.9 2314.1,1533.8 2316.4,1509.2 2326.5,1513.6 2346.8,1517.9 2375.8,1518.8 2406.2,1518.8 2409.1,1545.4 2412.0,1548.3"/>
<polyline class="b" points="127.7,1621.6 274.0,1621.6 277.3,1641.4 283.0,1628.4 289.4,1632.8 298.0,1628.4 306.8,1626.2 320.0,1620.0 330.7,1615.4 333.0,1625.0 336.0,1769.5 350.0,1773.0 356.0,1769.5 410.0,1768.5 415.0,1762.0 421.0,1768.5 425.5,1621.6 590.0,1621.6 595.7,1628.0 600.0,1621.6 615.0,1621.6 618.7,1615.0 622.0,1630.0 625.0,1768.0 720.0,1766.5 724.5,1621.6 918.0,1621.6 921.5,1628.0 926.0,1621.6 1174.0,1621.6 1178.0,1768.5 1230.0,1767.5 1236.0,1762.5 1251.0,1763.0 1254.5,1621.6 1428.0,1621.6 1432.0,1629.0 1440.0,1625.0 1646.0,1621.6 1650.0,1633.0 1654.0,1620.0 1659.0,1769.5 1662.0,1774.0 1730.0,1774.0 1734.0,1769.5 1785.0,1768.5 1790.6,1762.0 1796.0,1764.0 1798.4,1778.0 1800.5,1621.6 1977.0,1621.6 1980.5,1628.4 1985.0,1621.6 2228.0,1621.6 2231.0,1641.0 2236.0,1625.0 2240.0,1769.5 2290.0,1769.5 2303.0,1767.5 2308.0,1763.0 2310.6,1779.0 2313.5,1621.6 2348.0,1621.6 2352.6,1616.8 2361.0,1618.0 2364.0,1625.5 2370.0,1637.0 2375.8,1631.3 2383.0,1640.0 2388.8,1629.9 2394.6,1637.0 2400.4,1625.5 2404.7,1616.8 2407.0,1630.0 2409.5,1772.0 2412.3,1772.0"/>
<polyline class="o" points="127.7,1620.0 331.9,1620.0 333.9,1771.3 423.1,1771.3 425.1,1620.0 621.6,1620.0 623.6,1771.3 722.0,1771.3 724.0,1620.0 1174.9,1620.0 1176.9,1771.3 1251.8,1771.3 1253.8,1620.0 1657.1,1620.0 1659.1,1771.3 1797.4,1771.3 1799.4,1620.0 2237.0,1620.0 2239.0,1771.3 2310.5,1771.3 2312.5,1620.0 2406.0,1620.0 2408.0,1771.3 2412.3,1771.3"/>
<polyline class="b" points="127.7,1803.0 274.2,1803.0 280.7,1874.3 293.8,1858.2 310.3,1825.6 322.0,1853.8 328.5,1805.2 332.0,1815.0 335.0,1876.5 380.0,1875.9 383.0,1872.5 387.0,1876.5 421.0,1874.9 425.5,1803.0 550.0,1803.0 560.0,1805.2 570.0,1803.2 575.0,1808.0 585.0,1804.2 595.0,1807.5 600.0,1814.8 604.0,1805.2 612.0,1808.0 621.0,1803.2 625.0,1876.5 640.0,1873.9 645.0,1876.9 660.0,1876.5 662.0,1873.9 668.0,1876.9 718.0,1876.9 722.0,1878.0 725.0,1803.0 915.0,1803.0 917.0,1819.0 921.0,1810.0 925.0,1812.0 930.0,1804.2 945.0,1805.2 950.0,1808.5 955.0,1804.2 965.0,1804.2 968.0,1808.0 972.0,1803.2 1100.0,1803.0 1104.3,1805.2 1108.6,1832.0 1113.8,1847.3 1119.5,1827.8 1126.0,1812.6 1139.0,1805.2 1152.0,1812.6 1163.0,1804.2 1173.8,1803.2 1180.3,1836.5 1184.6,1871.2 1190.0,1876.5 1250.0,1876.5 1254.5,1803.0 1428.0,1803.0 1430.0,1821.3 1436.6,1819.0 1440.0,1808.0 1443.0,1805.2 1465.0,1803.2 1467.0,1808.0 1470.0,1803.7 1485.0,1803.2 1487.0,1807.0 1490.0,1803.2 1649.4,1803.0 1655.0,1874.3 1660.0,1876.5 1730.0,1875.9 1733.0,1872.5 1737.0,1876.5 1796.0,1874.9 1800.5,1803.0 1976.0,1803.0 1977.0,1817.6 1983.0,1815.0 1985.0,1808.0 1988.0,1816.0 1993.5,1805.2 2008.0,1804.2 2011.0,1807.5 2014.0,1803.2 2028.0,1803.2 2030.0,1807.5 2033.0,1803.2 2231.0,1803.0 2232.4,1823.4 2236.0,1812.0 2240.0,1876.5 2250.0,1874.9 2253.0,1872.0 2256.0,1876.5 2285.0,1877.4 2290.0,1874.9 2308.0,1873.9 2313.5,1803.0 2354.0,1803.0 2358.4,1838.0 2362.7,1848.0 2370.0,1839.4 2372.9,1827.8 2378.7,1830.7 2384.5,1814.8 2390.2,1810.4 2396.0,1820.5 2401.8,1827.8 2404.7,1800.3 2407.0,1810.0 2409.5,1876.5 2412.3,1876.5"/>
<polyline class="o" points="127.7,1799.6 331.9,1799.6 332.9,1961.6 333.9,1879.9 423.1,1879.9 425.1,1799.6 621.6,1799.6 623.6,1879.9 722.0,1879.9 724.0,1799.6 1174.9,1799.6 1176.9,1879.9 1251.8,1879.9 1253.8,1799.6 1657.1,1799.6 1658.1,1919.9 1659.1,1879.9 1797.4,1879.9 1798.4,1961.6 1799.4,1799.6 2237.0,1799.6 2239.0,1879.9 2310.5,1879.9 2312.5,1799.6 2406.0,1799.6 2408.0,1879.9 2412.3,1879.9"/>
</g>
<text transform="translate(313.8,325.4) scale(1.05,1)" text-anchor="middle" font-size="62.7">Dimension 1</text>
<text transform="translate(313.8,507.0) scale(1.05,1)" text-anchor="middle" font-size="62.7">Dimension 2</text>
<text transform="translate(313.8,688.6) scale(1.05,1)" text-anchor="middle" font-size="62.7">Dimension 3</text>
<text transform="translate(313.8,870.2) scale(1.05,1)" text-anchor="middle" font-size="62.7">Dimension 4</text>
<text transform="translate(313.8,1051.8) scale(1.05,1)" text-anchor="middle" font-size="62.7">Dimension 5</text>
<text transform="translate(313.8,1233.4) scale(1.05,1)" text-anchor="middle" font-size="62.7">Dimension 6</text>
<text transform="translate(313.8,1415.0) scale(1.05,1)" text-anchor="middle" font-size="62.7">Dimension 7</text>
<text transform="translate(313.8,1596.6) scale(1.05,1)" text-anchor="middle" font-size="62.7">Dimension 8</text>
<text transform="translate(313.8,1778.2) scale(1.05,1)" text-anchor="middle" font-size="62.7">Dimension 9</text>
<text transform="translate(317.5,1959.8) scale(1.05,1)" text-anchor="middle" font-size="62.7">Dimension 10</text>
<rect class="fr" x="127.7" y="155.3" width="2284.6000000000004" height="181.6"/>
<rect class="fr" x="127.7" y="336.9" width="2284.6000000000004" height="181.6"/>
<rect class="fr" x="127.7" y="518.5" width="2284.6000000000004" height="181.6"/>
<rect class="fr" x="127.7" y="700.1" width="2284.6000000000004" height="181.6"/>
<rect class="fr" x="127.7" y="881.7" width="2284.6000000000004" height="181.6"/>
<rect class="fr" x="127.7" y="1063.3" width="2284.6000000000004" height="181.6"/>
<rect class="fr" x="127.7" y="1244.9" width="2284.6000000000004" height="181.6"/>
<rect class="fr" x="127.7" y="1426.5" width="2284.6000000000004" height="181.6"/>
<rect class="fr" x="127.7" y="1608.1" width="2284.6000000000004" height="181.6"/>
<rect class="fr" x="127.7" y="1789.7" width="2284.6000000000004" height="181.6"/>
<rect x="708.7" y="34.5" width="1122.7" height="112" rx="6.5" ry="6.5" fill="#fff" fill-opacity="0.8" stroke="#d0d0d0" stroke-width="2.8"/>
<line x1="730.5" y1="80" x2="866" y2="80" stroke="#1f77b4" stroke-width="4.5"/>
<line x1="1311.5" y1="80" x2="1447" y2="80" stroke="#ff7f0e" stroke-width="4.5"/>
<text transform="translate(918.8,103.3) scale(1.047,1)" font-size="62.3">prediction</text>
<text transform="translate(1500.3,103.3) scale(1.047,1)" font-size="62.3">observation</text>
<text transform="translate(1270,2042.8) scale(1.05,1)" text-anchor="middle" font-size="62.3">Time</text>
<text transform="translate(78.8,1063.3) rotate(-90) scale(1.05,1)" text-anchor="middle" font-size="62.3">Test Value</text>
</svg></body></html>
